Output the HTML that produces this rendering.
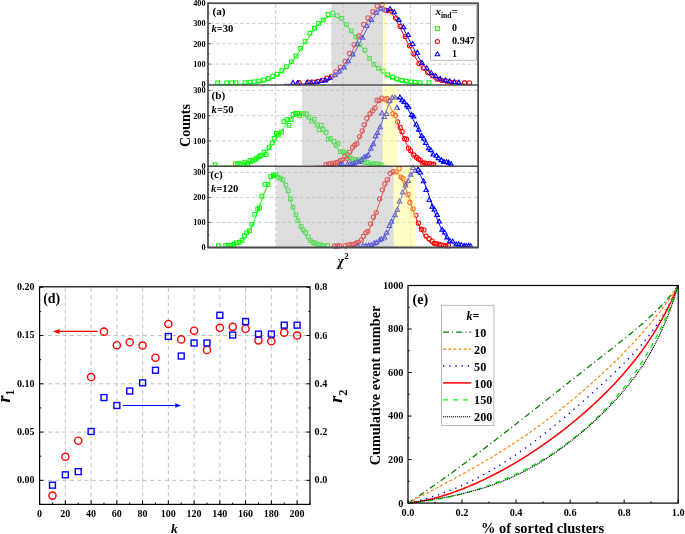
<!DOCTYPE html>
<html><head><meta charset="utf-8"><style>html,body{margin:0;padding:0;background:#fff;overflow:hidden}svg{display:block}</style></head>
<body><svg width="685" height="534" viewBox="0 0 685 534" font-family="'Liberation Serif', serif" font-weight="bold" fill="#000">
<rect width="685" height="534" fill="#fff"/>
<line x1="210" y1="64.07" x2="478.1" y2="64.07" stroke="#cecece" stroke-width="1" stroke-dasharray="3.5 2.5"/>
<line x1="210" y1="43.74" x2="478.1" y2="43.74" stroke="#cecece" stroke-width="1" stroke-dasharray="3.5 2.5"/>
<line x1="210" y1="23.41" x2="478.1" y2="23.41" stroke="#cecece" stroke-width="1" stroke-dasharray="3.5 2.5"/>
<line x1="275.6" y1="4" x2="275.6" y2="85" stroke="#cecece" stroke-width="1" stroke-dasharray="3.5 2.5"/>
<line x1="343.1" y1="4" x2="343.1" y2="85" stroke="#cecece" stroke-width="1" stroke-dasharray="3.5 2.5"/>
<line x1="410.6" y1="4" x2="410.6" y2="85" stroke="#cecece" stroke-width="1" stroke-dasharray="3.5 2.5"/>
<text x="205.6" y="87.3" font-size="8.3" text-anchor="end">0</text>
<text x="205.6" y="66.97" font-size="8.3" text-anchor="end">100</text>
<text x="205.6" y="46.64" font-size="8.3" text-anchor="end">200</text>
<text x="205.6" y="26.31" font-size="8.3" text-anchor="end">300</text>
<text x="205.6" y="5.98" font-size="8.3" text-anchor="end">400</text>
<line x1="210" y1="140.93" x2="478.1" y2="140.93" stroke="#cecece" stroke-width="1" stroke-dasharray="3.5 2.5"/>
<line x1="210" y1="115.66" x2="478.1" y2="115.66" stroke="#cecece" stroke-width="1" stroke-dasharray="3.5 2.5"/>
<line x1="210" y1="90.39" x2="478.1" y2="90.39" stroke="#cecece" stroke-width="1" stroke-dasharray="3.5 2.5"/>
<line x1="275.6" y1="86" x2="275.6" y2="166.2" stroke="#cecece" stroke-width="1" stroke-dasharray="3.5 2.5"/>
<line x1="343.1" y1="86" x2="343.1" y2="166.2" stroke="#cecece" stroke-width="1" stroke-dasharray="3.5 2.5"/>
<line x1="410.6" y1="86" x2="410.6" y2="166.2" stroke="#cecece" stroke-width="1" stroke-dasharray="3.5 2.5"/>
<text x="205.6" y="169.1" font-size="8.3" text-anchor="end">0</text>
<text x="205.6" y="143.83" font-size="8.3" text-anchor="end">100</text>
<text x="205.6" y="118.56" font-size="8.3" text-anchor="end">200</text>
<text x="205.6" y="93.29" font-size="8.3" text-anchor="end">300</text>
<line x1="210" y1="222.47" x2="478.1" y2="222.47" stroke="#cecece" stroke-width="1" stroke-dasharray="3.5 2.5"/>
<line x1="210" y1="197.44" x2="478.1" y2="197.44" stroke="#cecece" stroke-width="1" stroke-dasharray="3.5 2.5"/>
<line x1="210" y1="172.41" x2="478.1" y2="172.41" stroke="#cecece" stroke-width="1" stroke-dasharray="3.5 2.5"/>
<line x1="275.6" y1="167.2" x2="275.6" y2="247.5" stroke="#cecece" stroke-width="1" stroke-dasharray="3.5 2.5"/>
<line x1="343.1" y1="167.2" x2="343.1" y2="247.5" stroke="#cecece" stroke-width="1" stroke-dasharray="3.5 2.5"/>
<line x1="410.6" y1="167.2" x2="410.6" y2="247.5" stroke="#cecece" stroke-width="1" stroke-dasharray="3.5 2.5"/>
<text x="205.6" y="250.4" font-size="8.3" text-anchor="end">0</text>
<text x="205.6" y="225.37" font-size="8.3" text-anchor="end">100</text>
<text x="205.6" y="200.34" font-size="8.3" text-anchor="end">200</text>
<text x="205.6" y="175.31" font-size="8.3" text-anchor="end">300</text>
<polyline points="213,84.4 214,84.4 215,84.39 216,84.39 217,84.39 218,84.39 219,84.39 220,84.39 221,84.39 222,84.38 223,84.38 224,84.38 225,84.37 226,84.37 227,84.36 228,84.36 229,84.35 230,84.35 231,84.34 232,84.33 233,84.32 234,84.31 235,84.29 236,84.28 237,84.26 238,84.24 239,84.22 240,84.19 241,84.17 242,84.14 243,84.1 244,84.06 245,84.02 246,83.97 247,83.92 248,83.86 249,83.8 250,83.72 251,83.64 252,83.56 253,83.46 254,83.35 255,83.23 256,83.1 257,82.96 258,82.81 259,82.64 260,82.45 261,82.25 262,82.04 263,81.8 264,81.54 265,81.27 266,80.97 267,80.64 268,80.3 269,79.92 270,79.52 271,79.09 272,78.63 273,78.14 274,77.62 275,77.06 276,76.47 277,75.85 278,75.18 279,74.48 280,73.74 281,72.96 282,72.14 283,71.28 284,70.38 285,69.43 286,68.45 287,67.42 288,66.35 289,65.24 290,64.09 291,62.9 292,61.67 293,60.4 294,59.1 295,57.77 296,56.4 297,55 298,53.58 299,52.13 300,50.66 301,49.17 302,47.66 303,46.15 304,44.62 305,43.09 306,41.56 307,40.04 308,38.52 309,37.02 310,35.53 311,34.07 312,32.64 313,31.23 314,29.87 315,28.54 316,27.26 317,26.03 318,24.86 319,23.75 320,22.7 321,21.72 322,20.81 323,19.97 324,19.22 325,18.55 326,17.96 327,17.45 328,17.04 329,16.71 330,16.48 331,16.34 332,16.29 333,16.34 334,16.48 335,16.71 336,17.04 337,17.45 338,17.96 339,18.55 340,19.22 341,19.97 342,20.81 343,21.72 344,22.7 345,23.75 346,24.86 347,26.03 348,27.26 349,28.54 350,29.87 351,31.23 352,32.64 353,34.07 354,35.53 355,37.02 356,38.52 357,40.04 358,41.56 359,43.09 360,44.62 361,46.15 362,47.66 363,49.17 364,50.66 365,52.13 366,53.58 367,55 368,56.4 369,57.77 370,59.1 371,60.4 372,61.67 373,62.9 374,64.09 375,65.24 376,66.35 377,67.42 378,68.45 379,69.43 380,70.38 381,71.28 382,72.14 383,72.96 384,73.74 385,74.48 386,75.18 387,75.85 388,76.47 389,77.06 390,77.62 391,78.14 392,78.63 393,79.09 394,79.52 395,79.92 396,80.3 397,80.64 398,80.97 399,81.27 400,81.54 401,81.8 402,82.04 403,82.25 404,82.45 405,82.64 406,82.81 407,82.96 408,83.1 409,83.23 410,83.35 411,83.46 412,83.56 413,83.64 414,83.72 415,83.8 416,83.86 417,83.92 418,83.97 419,84.02 420,84.06 421,84.1 422,84.14 423,84.17 424,84.19 425,84.22 426,84.24 427,84.26 428,84.28 429,84.29 430,84.31" fill="none" stroke="#00ff00" stroke-width="1"/>
<polyline points="290,84.37 291,84.37 292,84.36 293,84.36 294,84.35 295,84.34 296,84.33 297,84.32 298,84.3 299,84.29 300,84.27 301,84.24 302,84.22 303,84.19 304,84.15 305,84.12 306,84.07 307,84.02 308,83.96 309,83.9 310,83.82 311,83.74 312,83.65 313,83.54 314,83.42 315,83.29 316,83.14 317,82.98 318,82.79 319,82.59 320,82.36 321,82.11 322,81.83 323,81.52 324,81.19 325,80.82 326,80.41 327,79.97 328,79.49 329,78.97 330,78.4 331,77.79 332,77.13 333,76.41 334,75.65 335,74.82 336,73.94 337,73.01 338,72.01 339,70.94 340,69.82 341,68.63 342,67.37 343,66.05 344,64.67 345,63.22 346,61.7 347,60.13 348,58.49 349,56.8 350,55.05 351,53.25 352,51.4 353,49.51 354,47.58 355,45.61 356,43.62 357,41.61 358,39.58 359,37.54 360,35.51 361,33.48 362,31.47 363,29.48 364,27.52 365,25.61 366,23.75 367,21.95 368,20.21 369,18.55 370,16.98 371,15.49 372,14.11 373,12.84 374,11.68 375,10.64 376,9.73 377,8.95 378,8.31 379,7.8 380,7.44 381,7.22 382,7.15 383,7.22 384,7.44 385,7.8 386,8.31 387,8.95 388,9.73 389,10.64 390,11.68 391,12.84 392,14.11 393,15.49 394,16.98 395,18.55 396,20.21 397,21.95 398,23.75 399,25.61 400,27.52 401,29.48 402,31.47 403,33.48 404,35.51 405,37.54 406,39.58 407,41.61 408,43.62 409,45.61 410,47.58 411,49.51 412,51.4 413,53.25 414,55.05 415,56.8 416,58.49 417,60.13 418,61.7 419,63.22 420,64.67 421,66.05 422,67.37 423,68.63 424,69.82 425,70.94 426,72.01 427,73.01 428,73.94 429,74.82 430,75.65 431,76.41 432,77.13 433,77.79 434,78.4 435,78.97 436,79.49 437,79.97 438,80.41 439,80.82 440,81.19 441,81.52 442,81.83 443,82.11 444,82.36 445,82.59 446,82.79 447,82.98 448,83.14 449,83.29 450,83.42 451,83.54 452,83.65 453,83.74 454,83.82 455,83.9 456,83.96 457,84.02 458,84.07 459,84.12 460,84.15 461,84.19 462,84.22 463,84.24 464,84.27 465,84.29 466,84.3 467,84.32 468,84.33 469,84.34 470,84.35 471,84.36 472,84.36" fill="none" stroke="#ff0000" stroke-width="1"/>
<polyline points="284,84.39 285,84.39 286,84.39 287,84.39 288,84.39 289,84.38 290,84.38 291,84.38 292,84.37 293,84.37 294,84.36 295,84.35 296,84.35 297,84.34 298,84.33 299,84.31 300,84.3 301,84.28 302,84.26 303,84.24 304,84.21 305,84.19 306,84.15 307,84.11 308,84.07 309,84.02 310,83.97 311,83.9 312,83.83 313,83.75 314,83.66 315,83.56 316,83.44 317,83.32 318,83.17 319,83.02 320,82.84 321,82.65 322,82.43 323,82.19 324,81.93 325,81.64 326,81.33 327,80.98 328,80.6 329,80.19 330,79.74 331,79.25 332,78.72 333,78.15 334,77.53 335,76.87 336,76.15 337,75.39 338,74.57 339,73.69 340,72.76 341,71.78 342,70.73 343,69.62 344,68.45 345,67.23 346,65.94 347,64.58 348,63.17 349,61.7 350,60.17 351,58.59 352,56.95 353,55.26 354,53.52 355,51.74 356,49.91 357,48.05 358,46.16 359,44.25 360,42.31 361,40.36 362,38.41 363,36.45 364,34.5 365,32.57 366,30.66 367,28.77 368,26.93 369,25.14 370,23.39 371,21.71 372,20.1 373,18.57 374,17.13 375,15.77 376,14.52 377,13.37 378,12.33 379,11.42 380,10.62 381,9.95 382,9.41 383,9 384,8.72 385,8.59 386,8.59 387,8.73 388,9.02 389,9.44 390,10.01 391,10.71 392,11.54 393,12.5 394,13.57 395,14.77 396,16.07 397,17.48 398,18.98 399,20.57 400,22.24 401,23.97 402,25.77 403,27.63 404,29.53 405,31.46 406,33.43 407,35.41 408,37.41 409,39.41 410,41.4 411,43.39 412,45.35 413,47.3 414,49.21 415,51.09 416,52.92 417,54.71 418,56.46 419,58.15 420,59.78 421,61.36 422,62.87 423,64.33 424,65.72 425,67.05 426,68.31 427,69.51 428,70.65 429,71.72 430,72.73 431,73.68 432,74.58 433,75.41 434,76.19 435,76.92 436,77.59 437,78.22 438,78.8 439,79.33 440,79.82 441,80.27 442,80.69 443,81.07 444,81.41 445,81.73 446,82.02 447,82.28 448,82.51 449,82.72 450,82.91 451,83.09 452,83.24 453,83.38 454,83.5 455,83.61 456,83.71 457,83.8 458,83.87 459,83.94 460,84 461,84.05 462,84.1" fill="none" stroke="#0000ff" stroke-width="1"/>
<polyline points="213,166.19 214,166.19 215,166.19 216,166.19 217,166.18 218,166.18 219,166.18 220,166.17 221,166.17 222,166.16 223,166.15 224,166.14 225,166.13 226,166.12 227,166.1 228,166.08 229,166.06 230,166.04 231,166.01 232,165.97 233,165.93 234,165.89 235,165.84 236,165.78 237,165.71 238,165.63 239,165.54 240,165.44 241,165.33 242,165.2 243,165.05 244,164.89 245,164.7 246,164.5 247,164.27 248,164.01 249,163.73 250,163.42 251,163.08 252,162.7 253,162.28 254,161.83 255,161.34 256,160.8 257,160.22 258,159.59 259,158.91 260,158.18 261,157.41 262,156.57 263,155.69 264,154.75 265,153.75 266,152.7 267,151.6 268,150.45 269,149.24 270,147.98 271,146.68 272,145.34 273,143.95 274,142.53 275,141.08 276,139.61 277,138.11 278,136.6 279,135.09 280,133.57 281,132.06 282,130.57 283,129.1 284,127.66 285,126.25 286,124.9 287,123.6 288,122.37 289,121.21 290,120.12 291,119.13 292,118.22 293,117.42 294,116.72 295,116.12 296,115.64 297,115.28 298,115.04 299,114.92 300,114.91 301,114.99 302,115.14 303,115.36 304,115.66 305,116.04 306,116.48 307,116.99 308,117.57 309,118.21 310,118.92 311,119.68 312,120.5 313,121.37 314,122.29 315,123.25 316,124.26 317,125.3 318,126.37 319,127.48 320,128.61 321,129.76 322,130.92 323,132.1 324,133.29 325,134.49 326,135.68 327,136.88 328,138.07 329,139.25 330,140.42 331,141.58 332,142.71 333,143.83 334,144.93 335,146 336,147.05 337,148.07 338,149.06 339,150.02 340,150.95 341,151.85 342,152.71 343,153.54 344,154.34 345,155.11 346,155.84 347,156.53 348,157.19 349,157.82 350,158.42 351,158.99 352,159.52 353,160.02 354,160.5 355,160.94 356,161.36 357,161.75 358,162.12 359,162.46 360,162.78 361,163.07 362,163.35 363,163.6 364,163.84 365,164.05 366,164.25 367,164.44 368,164.6 369,164.76 370,164.9 371,165.03 372,165.15 373,165.26 374,165.35 375,165.44 376,165.52 377,165.6 378,165.66 379,165.72 380,165.77 381,165.82 382,165.87 383,165.9 384,165.94 385,165.97 386,166" fill="none" stroke="#00ff00" stroke-width="1"/>
<polyline points="314,166.16 315,166.15 316,166.14 317,166.12 318,166.1 319,166.08 320,166.06 321,166.03 322,165.99 323,165.95 324,165.89 325,165.83 326,165.76 327,165.68 328,165.58 329,165.47 330,165.34 331,165.19 332,165.01 333,164.81 334,164.58 335,164.32 336,164.03 337,163.69 338,163.31 339,162.89 340,162.41 341,161.88 342,161.29 343,160.64 344,159.92 345,159.12 346,158.26 347,157.31 348,156.28 349,155.16 350,153.96 351,152.67 352,151.29 353,149.82 354,148.26 355,146.61 356,144.87 357,143.05 358,141.16 359,139.19 360,137.16 361,135.07 362,132.93 363,130.76 364,128.56 365,126.35 366,124.14 367,121.94 368,119.77 369,117.65 370,115.58 371,113.59 372,111.69 373,109.89 374,108.22 375,106.68 376,105.28 377,104.05 378,102.98 379,102.1 380,101.4 381,100.9 382,100.6 383,100.5 384,100.63 385,101.01 386,101.64 387,102.52 388,103.63 389,104.96 390,106.49 391,108.22 392,110.11 393,112.16 394,114.33 395,116.61 396,118.97 397,121.4 398,123.86 399,126.35 400,128.84 401,131.31 402,133.74 403,136.12 404,138.43 405,140.67 406,142.82 407,144.87 408,146.82 409,148.65 410,150.38 411,151.99 412,153.49 413,154.87 414,156.14 415,157.31 416,158.37 417,159.33 418,160.2 419,160.97 420,161.67 421,162.28 422,162.83 423,163.31 424,163.74 425,164.1 426,164.42 427,164.7 428,164.94 429,165.15 430,165.32 431,165.47 432,165.6 433,165.7 434,165.79 435,165.87 436,165.93 437,165.98 438,166.02 439,166.06 440,166.08 441,166.11 442,166.13" fill="none" stroke="#ff0000" stroke-width="1"/>
<polyline points="326,166.2 327,166.2 328,166.2 329,166.2 330,166.2 331,166.19 332,166.19 333,166.19 334,166.19 335,166.18 336,166.18 337,166.17 338,166.16 339,166.15 340,166.14 341,166.12 342,166.09 343,166.07 344,166.03 345,165.99 346,165.93 347,165.87 348,165.79 349,165.69 350,165.58 351,165.44 352,165.27 353,165.07 354,164.84 355,164.56 356,164.24 357,163.86 358,163.42 359,162.92 360,162.34 361,161.68 362,160.93 363,160.09 364,159.14 365,158.08 366,156.9 367,155.59 368,154.16 369,152.6 370,150.9 371,149.06 372,147.09 373,144.99 374,142.75 375,140.4 376,137.94 377,135.38 378,132.74 379,130.04 380,127.29 381,124.51 382,121.74 383,118.99 384,116.29 385,113.67 386,111.16 387,108.79 388,106.58 389,104.56 390,102.75 391,101.18 392,99.87 393,98.83 394,98.07 395,97.62 396,97.47 397,97.56 398,97.83 399,98.27 400,98.9 401,99.69 402,100.64 403,101.75 404,103.01 405,104.41 406,105.93 407,107.58 408,109.32 409,111.16 410,113.08 411,115.07 412,117.11 413,119.2 414,121.31 415,123.44 416,125.58 417,127.71 418,129.83 419,131.92 420,133.97 421,135.98 422,137.94 423,139.84 424,141.68 425,143.45 426,145.15 427,146.77 428,148.32 429,149.78 430,151.17 431,152.47 432,153.7 433,154.84 434,155.91 435,156.9 436,157.82 437,158.66 438,159.44 439,160.16 440,160.81 441,161.41 442,161.95 443,162.44 444,162.88 445,163.28 446,163.63 447,163.95 448,164.24 449,164.49 450,164.71 451,164.91 452,165.09" fill="none" stroke="#0000ff" stroke-width="1"/>
<polyline points="216,247.46 217,247.45 218,247.43 219,247.42 220,247.39 221,247.37 222,247.33 223,247.29 224,247.24 225,247.18 226,247.1 227,247.01 228,246.9 229,246.77 230,246.61 231,246.43 232,246.21 233,245.95 234,245.65 235,245.3 236,244.9 237,244.44 238,243.9 239,243.3 240,242.61 241,241.83 242,240.95 243,239.97 244,238.88 245,237.68 246,236.35 247,234.89 248,233.3 249,231.58 250,229.72 251,227.73 252,225.61 253,223.36 254,220.99 255,218.51 256,215.93 257,213.26 258,210.52 259,207.72 260,204.89 261,202.05 262,199.23 263,196.44 264,193.71 265,191.07 266,188.55 267,186.17 268,183.96 269,181.95 270,180.15 271,178.59 272,177.29 273,176.26 274,175.51 275,175.06 276,174.91 277,175.06 278,175.51 279,176.26 280,177.29 281,178.59 282,180.15 283,181.95 284,183.96 285,186.17 286,188.55 287,191.07 288,193.71 289,196.44 290,199.23 291,202.05 292,204.89 293,207.72 294,210.52 295,213.26 296,215.93 297,218.51 298,220.99 299,223.36 300,225.61 301,227.73 302,229.72 303,231.58 304,233.3 305,234.89 306,236.35 307,237.68 308,238.88 309,239.97 310,240.95 311,241.83 312,242.61 313,243.3 314,243.9 315,244.44 316,244.9 317,245.3 318,245.65 319,245.95 320,246.21 321,246.43 322,246.61 323,246.77 324,246.9 325,247.01 326,247.1 327,247.18 328,247.24 329,247.29 330,247.33 331,247.37" fill="none" stroke="#00ff00" stroke-width="1"/>
<polyline points="332,247.48 333,247.48 334,247.47 335,247.47 336,247.46 337,247.44 338,247.43 339,247.41 340,247.38 341,247.35 342,247.31 343,247.27 344,247.21 345,247.14 346,247.06 347,246.95 348,246.83 349,246.68 350,246.51 351,246.3 352,246.05 353,245.77 354,245.43 355,245.04 356,244.58 357,244.06 358,243.47 359,242.79 360,242.01 361,241.14 362,240.16 363,239.07 364,237.86 365,236.52 366,235.04 367,233.43 368,231.67 369,229.78 370,227.74 371,225.56 372,223.24 373,220.79 374,218.22 375,215.55 376,212.77 377,209.91 378,207 379,204.04 380,201.06 381,198.1 382,195.16 383,192.29 384,189.51 385,186.85 386,184.34 387,182 388,179.87 389,177.97 390,176.31 391,174.93 392,173.84 393,173.05 394,172.57 395,172.41 396,172.57 397,173.05 398,173.84 399,174.93 400,176.31 401,177.97 402,179.87 403,182 404,184.34 405,186.85 406,189.51 407,192.29 408,195.16 409,198.1 410,201.06 411,204.04 412,207 413,209.91 414,212.77 415,215.55 416,218.22 417,220.79 418,223.24 419,225.56 420,227.74 421,229.78 422,231.67 423,233.43 424,235.04 425,236.52 426,237.86 427,239.07 428,240.16 429,241.14 430,242.01 431,242.79 432,243.47 433,244.06 434,244.58 435,245.04 436,245.43 437,245.77 438,246.05 439,246.3 440,246.51 441,246.68 442,246.83 443,246.95 444,247.06 445,247.14 446,247.21 447,247.27 448,247.31 449,247.35" fill="none" stroke="#ff0000" stroke-width="1"/>
<polyline points="358,247.42 359,247.4 360,247.38 361,247.34 362,247.3 363,247.26 364,247.2 365,247.13 366,247.04 367,246.93 368,246.81 369,246.66 370,246.48 371,246.27 372,246.03 373,245.74 374,245.4 375,245.01 376,244.56 377,244.04 378,243.45 379,242.78 380,242.01 381,241.15 382,240.19 383,239.11 384,237.91 385,236.59 386,235.14 387,233.56 388,231.83 389,229.97 390,227.97 391,225.83 392,223.55 393,221.14 394,218.62 395,215.98 396,213.24 397,210.42 398,207.54 399,204.61 400,201.65 401,198.7 402,195.77 403,192.89 404,190.1 405,187.41 406,184.85 407,182.46 408,180.26 409,178.27 410,176.52 411,175.03 412,173.81 413,172.89 414,172.26 415,171.95 416,171.95 417,172.26 418,172.89 419,173.81 420,175.03 421,176.52 422,178.27 423,180.26 424,182.46 425,184.85 426,187.41 427,190.1 428,192.89 429,195.77 430,198.7 431,201.65 432,204.61 433,207.54 434,210.42 435,213.24 436,215.98 437,218.62 438,221.14 439,223.55 440,225.83 441,227.97 442,229.97 443,231.83 444,233.56 445,235.14 446,236.59 447,237.91 448,239.11 449,240.19 450,241.15 451,242.01 452,242.78 453,243.45 454,244.04 455,244.56 456,245.01 457,245.4 458,245.74 459,246.03 460,246.27 461,246.48 462,246.66 463,246.81 464,246.93 465,247.04 466,247.13 467,247.2 468,247.26 469,247.3 470,247.34 471,247.38 472,247.4 473,247.42" fill="none" stroke="#0000ff" stroke-width="1"/>
<rect x="215.77" y="81" width="3.7" height="3.7" fill="none" stroke="#00ff00" stroke-width="1.05"/>
<rect x="224.91" y="81" width="3.7" height="3.7" fill="none" stroke="#00ff00" stroke-width="1.05"/>
<rect x="229.75" y="80.95" width="3.7" height="3.7" fill="none" stroke="#00ff00" stroke-width="1.05"/>
<rect x="233.98" y="80.91" width="3.7" height="3.7" fill="none" stroke="#00ff00" stroke-width="1.05"/>
<rect x="243.29" y="80.87" width="3.7" height="3.7" fill="none" stroke="#00ff00" stroke-width="1.05"/>
<rect x="248.17" y="80.34" width="3.7" height="3.7" fill="none" stroke="#00ff00" stroke-width="1.05"/>
<rect x="252.42" y="79.96" width="3.7" height="3.7" fill="none" stroke="#00ff00" stroke-width="1.05"/>
<rect x="257.04" y="79.22" width="3.7" height="3.7" fill="none" stroke="#00ff00" stroke-width="1.05"/>
<rect x="261.94" y="78.19" width="3.7" height="3.7" fill="none" stroke="#00ff00" stroke-width="1.05"/>
<rect x="266.43" y="76.69" width="3.7" height="3.7" fill="none" stroke="#00ff00" stroke-width="1.05"/>
<rect x="270.87" y="74.42" width="3.7" height="3.7" fill="none" stroke="#00ff00" stroke-width="1.05"/>
<rect x="275.29" y="72.4" width="3.7" height="3.7" fill="none" stroke="#00ff00" stroke-width="1.05"/>
<rect x="279.97" y="68.85" width="3.7" height="3.7" fill="none" stroke="#00ff00" stroke-width="1.05"/>
<rect x="284.64" y="64.77" width="3.7" height="3.7" fill="none" stroke="#00ff00" stroke-width="1.05"/>
<rect x="289.4" y="60.01" width="3.7" height="3.7" fill="none" stroke="#00ff00" stroke-width="1.05"/>
<rect x="294.13" y="54" width="3.7" height="3.7" fill="none" stroke="#00ff00" stroke-width="1.05"/>
<rect x="298.67" y="46.49" width="3.7" height="3.7" fill="none" stroke="#00ff00" stroke-width="1.05"/>
<rect x="303.17" y="39.69" width="3.7" height="3.7" fill="none" stroke="#00ff00" stroke-width="1.05"/>
<rect x="307.98" y="31.34" width="3.7" height="3.7" fill="none" stroke="#00ff00" stroke-width="1.05"/>
<rect x="312.64" y="26.37" width="3.7" height="3.7" fill="none" stroke="#00ff00" stroke-width="1.05"/>
<rect x="316.72" y="21.62" width="3.7" height="3.7" fill="none" stroke="#00ff00" stroke-width="1.05"/>
<rect x="321.34" y="18.18" width="3.7" height="3.7" fill="none" stroke="#00ff00" stroke-width="1.05"/>
<rect x="326.14" y="12.61" width="3.7" height="3.7" fill="none" stroke="#00ff00" stroke-width="1.05"/>
<rect x="330.91" y="11.08" width="3.7" height="3.7" fill="none" stroke="#00ff00" stroke-width="1.05"/>
<rect x="335.39" y="13.73" width="3.7" height="3.7" fill="none" stroke="#00ff00" stroke-width="1.05"/>
<rect x="340.07" y="16.51" width="3.7" height="3.7" fill="none" stroke="#00ff00" stroke-width="1.05"/>
<rect x="344.61" y="22.72" width="3.7" height="3.7" fill="none" stroke="#00ff00" stroke-width="1.05"/>
<rect x="349.35" y="29" width="3.7" height="3.7" fill="none" stroke="#00ff00" stroke-width="1.05"/>
<rect x="354.02" y="35.14" width="3.7" height="3.7" fill="none" stroke="#00ff00" stroke-width="1.05"/>
<rect x="358.09" y="43.03" width="3.7" height="3.7" fill="none" stroke="#00ff00" stroke-width="1.05"/>
<rect x="363.07" y="48.27" width="3.7" height="3.7" fill="none" stroke="#00ff00" stroke-width="1.05"/>
<rect x="367.74" y="56.49" width="3.7" height="3.7" fill="none" stroke="#00ff00" stroke-width="1.05"/>
<rect x="372.02" y="62.54" width="3.7" height="3.7" fill="none" stroke="#00ff00" stroke-width="1.05"/>
<rect x="376.46" y="66.39" width="3.7" height="3.7" fill="none" stroke="#00ff00" stroke-width="1.05"/>
<rect x="381.33" y="69.25" width="3.7" height="3.7" fill="none" stroke="#00ff00" stroke-width="1.05"/>
<rect x="385.69" y="72.89" width="3.7" height="3.7" fill="none" stroke="#00ff00" stroke-width="1.05"/>
<rect x="390.71" y="75.31" width="3.7" height="3.7" fill="none" stroke="#00ff00" stroke-width="1.05"/>
<rect x="395.08" y="77.13" width="3.7" height="3.7" fill="none" stroke="#00ff00" stroke-width="1.05"/>
<rect x="399.97" y="78.45" width="3.7" height="3.7" fill="none" stroke="#00ff00" stroke-width="1.05"/>
<rect x="404.38" y="79.29" width="3.7" height="3.7" fill="none" stroke="#00ff00" stroke-width="1.05"/>
<rect x="409.18" y="80" width="3.7" height="3.7" fill="none" stroke="#00ff00" stroke-width="1.05"/>
<rect x="413.42" y="80.36" width="3.7" height="3.7" fill="none" stroke="#00ff00" stroke-width="1.05"/>
<rect x="418.1" y="80.92" width="3.7" height="3.7" fill="none" stroke="#00ff00" stroke-width="1.05"/>
<rect x="427.16" y="80.8" width="3.7" height="3.7" fill="none" stroke="#00ff00" stroke-width="1.05"/>
<circle cx="299.12" cy="82.78" r="2.15" fill="none" stroke="#ff0000" stroke-width="1.05"/>
<circle cx="308.41" cy="82.25" r="2.15" fill="none" stroke="#ff0000" stroke-width="1.05"/>
<circle cx="313.07" cy="82.11" r="2.15" fill="none" stroke="#ff0000" stroke-width="1.05"/>
<circle cx="317.84" cy="81.4" r="2.15" fill="none" stroke="#ff0000" stroke-width="1.05"/>
<circle cx="322.37" cy="80.35" r="2.15" fill="none" stroke="#ff0000" stroke-width="1.05"/>
<circle cx="326.74" cy="78.14" r="2.15" fill="none" stroke="#ff0000" stroke-width="1.05"/>
<circle cx="331.34" cy="76.56" r="2.15" fill="none" stroke="#ff0000" stroke-width="1.05"/>
<circle cx="335.74" cy="71.86" r="2.15" fill="none" stroke="#ff0000" stroke-width="1.05"/>
<circle cx="340.34" cy="67.08" r="2.15" fill="none" stroke="#ff0000" stroke-width="1.05"/>
<circle cx="345.1" cy="61.31" r="2.15" fill="none" stroke="#ff0000" stroke-width="1.05"/>
<circle cx="349.53" cy="53.42" r="2.15" fill="none" stroke="#ff0000" stroke-width="1.05"/>
<circle cx="354.16" cy="44.74" r="2.15" fill="none" stroke="#ff0000" stroke-width="1.05"/>
<circle cx="358.92" cy="36.04" r="2.15" fill="none" stroke="#ff0000" stroke-width="1.05"/>
<circle cx="363.67" cy="24.42" r="2.15" fill="none" stroke="#ff0000" stroke-width="1.05"/>
<circle cx="367.99" cy="17.96" r="2.15" fill="none" stroke="#ff0000" stroke-width="1.05"/>
<circle cx="372.72" cy="11.6" r="2.15" fill="none" stroke="#ff0000" stroke-width="1.05"/>
<circle cx="377.17" cy="5.91" r="2.15" fill="none" stroke="#ff0000" stroke-width="1.05"/>
<circle cx="381.98" cy="4.7" r="2.15" fill="none" stroke="#ff0000" stroke-width="1.05"/>
<circle cx="386.59" cy="10.7" r="2.15" fill="none" stroke="#ff0000" stroke-width="1.05"/>
<circle cx="391.11" cy="11.05" r="2.15" fill="none" stroke="#ff0000" stroke-width="1.05"/>
<circle cx="395.66" cy="18.07" r="2.15" fill="none" stroke="#ff0000" stroke-width="1.05"/>
<circle cx="400.11" cy="26.47" r="2.15" fill="none" stroke="#ff0000" stroke-width="1.05"/>
<circle cx="405.27" cy="36.61" r="2.15" fill="none" stroke="#ff0000" stroke-width="1.05"/>
<circle cx="409.63" cy="45.83" r="2.15" fill="none" stroke="#ff0000" stroke-width="1.05"/>
<circle cx="413.92" cy="53.99" r="2.15" fill="none" stroke="#ff0000" stroke-width="1.05"/>
<circle cx="419.02" cy="63.43" r="2.15" fill="none" stroke="#ff0000" stroke-width="1.05"/>
<circle cx="423.52" cy="67.91" r="2.15" fill="none" stroke="#ff0000" stroke-width="1.05"/>
<circle cx="427.8" cy="72.48" r="2.15" fill="none" stroke="#ff0000" stroke-width="1.05"/>
<circle cx="432.76" cy="75.63" r="2.15" fill="none" stroke="#ff0000" stroke-width="1.05"/>
<circle cx="437.1" cy="79.14" r="2.15" fill="none" stroke="#ff0000" stroke-width="1.05"/>
<circle cx="441.63" cy="80.36" r="2.15" fill="none" stroke="#ff0000" stroke-width="1.05"/>
<circle cx="446.61" cy="81.14" r="2.15" fill="none" stroke="#ff0000" stroke-width="1.05"/>
<circle cx="451.18" cy="82.48" r="2.15" fill="none" stroke="#ff0000" stroke-width="1.05"/>
<circle cx="455.44" cy="82.35" r="2.15" fill="none" stroke="#ff0000" stroke-width="1.05"/>
<circle cx="464.67" cy="82.79" r="2.15" fill="none" stroke="#ff0000" stroke-width="1.05"/>
<circle cx="469.52" cy="82.83" r="2.15" fill="none" stroke="#ff0000" stroke-width="1.05"/>
<path d="M293.04 80.4L295.34 84.4L290.74 84.4Z" fill="none" stroke="#0000ff" stroke-width="1.05"/>
<path d="M297.62 80.45L299.92 84.45L295.32 84.45Z" fill="none" stroke="#0000ff" stroke-width="1.05"/>
<path d="M306.99 80.38L309.29 84.38L304.69 84.38Z" fill="none" stroke="#0000ff" stroke-width="1.05"/>
<path d="M311.35 80.1L313.65 84.1L309.05 84.1Z" fill="none" stroke="#0000ff" stroke-width="1.05"/>
<path d="M316.3 79.77L318.6 83.77L314 83.77Z" fill="none" stroke="#0000ff" stroke-width="1.05"/>
<path d="M320.95 78.46L323.25 82.46L318.65 82.46Z" fill="none" stroke="#0000ff" stroke-width="1.05"/>
<path d="M325.39 77.88L327.69 81.88L323.09 81.88Z" fill="none" stroke="#0000ff" stroke-width="1.05"/>
<path d="M329.9 75.57L332.2 79.57L327.6 79.57Z" fill="none" stroke="#0000ff" stroke-width="1.05"/>
<path d="M334.78 72.55L337.08 76.55L332.48 76.55Z" fill="none" stroke="#0000ff" stroke-width="1.05"/>
<path d="M339.14 69.09L341.44 73.09L336.84 73.09Z" fill="none" stroke="#0000ff" stroke-width="1.05"/>
<path d="M344.07 64.9L346.37 68.9L341.77 68.9Z" fill="none" stroke="#0000ff" stroke-width="1.05"/>
<path d="M348.18 58.76L350.48 62.76L345.88 62.76Z" fill="none" stroke="#0000ff" stroke-width="1.05"/>
<path d="M352.79 51.87L355.09 55.87L350.49 55.87Z" fill="none" stroke="#0000ff" stroke-width="1.05"/>
<path d="M357.39 41.57L359.69 45.57L355.09 45.57Z" fill="none" stroke="#0000ff" stroke-width="1.05"/>
<path d="M362.4 35.21L364.7 39.21L360.1 39.21Z" fill="none" stroke="#0000ff" stroke-width="1.05"/>
<path d="M366.71 23.54L369.01 27.54L364.41 27.54Z" fill="none" stroke="#0000ff" stroke-width="1.05"/>
<path d="M371.43 17.39L373.73 21.39L369.13 21.39Z" fill="none" stroke="#0000ff" stroke-width="1.05"/>
<path d="M376.28 10.47L378.58 14.47L373.98 14.47Z" fill="none" stroke="#0000ff" stroke-width="1.05"/>
<path d="M380.69 6.13L382.99 10.13L378.39 10.13Z" fill="none" stroke="#0000ff" stroke-width="1.05"/>
<path d="M385.16 7.84L387.46 11.84L382.86 11.84Z" fill="none" stroke="#0000ff" stroke-width="1.05"/>
<path d="M390.02 6.51L392.32 10.51L387.72 10.51Z" fill="none" stroke="#0000ff" stroke-width="1.05"/>
<path d="M394.25 9.72L396.55 13.72L391.95 13.72Z" fill="none" stroke="#0000ff" stroke-width="1.05"/>
<path d="M398.88 17.44L401.18 21.44L396.58 21.44Z" fill="none" stroke="#0000ff" stroke-width="1.05"/>
<path d="M403.46 24.77L405.76 28.77L401.16 28.77Z" fill="none" stroke="#0000ff" stroke-width="1.05"/>
<path d="M408.15 32.47L410.45 36.47L405.85 36.47Z" fill="none" stroke="#0000ff" stroke-width="1.05"/>
<path d="M412.71 41.56L415.01 45.56L410.41 45.56Z" fill="none" stroke="#0000ff" stroke-width="1.05"/>
<path d="M417.37 50.15L419.67 54.15L415.07 54.15Z" fill="none" stroke="#0000ff" stroke-width="1.05"/>
<path d="M421.95 60.35L424.25 64.35L419.65 64.35Z" fill="none" stroke="#0000ff" stroke-width="1.05"/>
<path d="M426.85 65.81L429.15 69.81L424.55 69.81Z" fill="none" stroke="#0000ff" stroke-width="1.05"/>
<path d="M431.21 70.6L433.51 74.6L428.91 74.6Z" fill="none" stroke="#0000ff" stroke-width="1.05"/>
<path d="M435.51 73.57L437.81 77.57L433.21 77.57Z" fill="none" stroke="#0000ff" stroke-width="1.05"/>
<path d="M440.1 76.31L442.4 80.31L437.8 80.31Z" fill="none" stroke="#0000ff" stroke-width="1.05"/>
<path d="M445.18 77.77L447.48 81.77L442.88 81.77Z" fill="none" stroke="#0000ff" stroke-width="1.05"/>
<path d="M449.74 78.83L452.04 82.83L447.44 82.83Z" fill="none" stroke="#0000ff" stroke-width="1.05"/>
<path d="M454.23 79.46L456.53 83.46L451.93 83.46Z" fill="none" stroke="#0000ff" stroke-width="1.05"/>
<path d="M458.83 80.1L461.13 84.1L456.53 84.1Z" fill="none" stroke="#0000ff" stroke-width="1.05"/>
<rect x="331.3" y="3.9" width="51.7" height="80.4" fill="rgb(185,185,185)" fill-opacity="0.486"/>
<rect x="383" y="3.9" width="3" height="80.4" fill="rgb(255,255,116)" fill-opacity="0.43"/>
<rect x="213.34" y="162.85" width="3.7" height="3.7" fill="none" stroke="#00ff00" stroke-width="1.05"/>
<rect x="233.43" y="162.2" width="3.7" height="3.7" fill="none" stroke="#00ff00" stroke-width="1.05"/>
<rect x="235.58" y="162.04" width="3.7" height="3.7" fill="none" stroke="#00ff00" stroke-width="1.05"/>
<rect x="238.19" y="161.88" width="3.7" height="3.7" fill="none" stroke="#00ff00" stroke-width="1.05"/>
<rect x="241.1" y="162.71" width="3.7" height="3.7" fill="none" stroke="#00ff00" stroke-width="1.05"/>
<rect x="242.89" y="160.34" width="3.7" height="3.7" fill="none" stroke="#00ff00" stroke-width="1.05"/>
<rect x="245.83" y="161.82" width="3.7" height="3.7" fill="none" stroke="#00ff00" stroke-width="1.05"/>
<rect x="248.08" y="158.7" width="3.7" height="3.7" fill="none" stroke="#00ff00" stroke-width="1.05"/>
<rect x="250.63" y="159.26" width="3.7" height="3.7" fill="none" stroke="#00ff00" stroke-width="1.05"/>
<rect x="253" y="157.87" width="3.7" height="3.7" fill="none" stroke="#00ff00" stroke-width="1.05"/>
<rect x="254.83" y="156.26" width="3.7" height="3.7" fill="none" stroke="#00ff00" stroke-width="1.05"/>
<rect x="257.22" y="154.58" width="3.7" height="3.7" fill="none" stroke="#00ff00" stroke-width="1.05"/>
<rect x="259.29" y="153.6" width="3.7" height="3.7" fill="none" stroke="#00ff00" stroke-width="1.05"/>
<rect x="262.18" y="150.25" width="3.7" height="3.7" fill="none" stroke="#00ff00" stroke-width="1.05"/>
<rect x="264.32" y="152.8" width="3.7" height="3.7" fill="none" stroke="#00ff00" stroke-width="1.05"/>
<rect x="267.22" y="145.86" width="3.7" height="3.7" fill="none" stroke="#00ff00" stroke-width="1.05"/>
<rect x="270.25" y="141.15" width="3.7" height="3.7" fill="none" stroke="#00ff00" stroke-width="1.05"/>
<rect x="272.27" y="136.46" width="3.7" height="3.7" fill="none" stroke="#00ff00" stroke-width="1.05"/>
<rect x="274.57" y="131.42" width="3.7" height="3.7" fill="none" stroke="#00ff00" stroke-width="1.05"/>
<rect x="276.54" y="133.16" width="3.7" height="3.7" fill="none" stroke="#00ff00" stroke-width="1.05"/>
<rect x="279.7" y="130.33" width="3.7" height="3.7" fill="none" stroke="#00ff00" stroke-width="1.05"/>
<rect x="282.05" y="119.81" width="3.7" height="3.7" fill="none" stroke="#00ff00" stroke-width="1.05"/>
<rect x="285.03" y="117.78" width="3.7" height="3.7" fill="none" stroke="#00ff00" stroke-width="1.05"/>
<rect x="287.16" y="123.55" width="3.7" height="3.7" fill="none" stroke="#00ff00" stroke-width="1.05"/>
<rect x="289.36" y="117.67" width="3.7" height="3.7" fill="none" stroke="#00ff00" stroke-width="1.05"/>
<rect x="291.22" y="112.52" width="3.7" height="3.7" fill="none" stroke="#00ff00" stroke-width="1.05"/>
<rect x="293.49" y="111.46" width="3.7" height="3.7" fill="none" stroke="#00ff00" stroke-width="1.05"/>
<rect x="295.82" y="111.61" width="3.7" height="3.7" fill="none" stroke="#00ff00" stroke-width="1.05"/>
<rect x="297.82" y="113.94" width="3.7" height="3.7" fill="none" stroke="#00ff00" stroke-width="1.05"/>
<rect x="299.99" y="111.74" width="3.7" height="3.7" fill="none" stroke="#00ff00" stroke-width="1.05"/>
<rect x="302.11" y="111.86" width="3.7" height="3.7" fill="none" stroke="#00ff00" stroke-width="1.05"/>
<rect x="304.86" y="112.16" width="3.7" height="3.7" fill="none" stroke="#00ff00" stroke-width="1.05"/>
<rect x="307" y="115.3" width="3.7" height="3.7" fill="none" stroke="#00ff00" stroke-width="1.05"/>
<rect x="309.84" y="119.34" width="3.7" height="3.7" fill="none" stroke="#00ff00" stroke-width="1.05"/>
<rect x="312.5" y="117.39" width="3.7" height="3.7" fill="none" stroke="#00ff00" stroke-width="1.05"/>
<rect x="315.25" y="123.1" width="3.7" height="3.7" fill="none" stroke="#00ff00" stroke-width="1.05"/>
<rect x="317.3" y="128.01" width="3.7" height="3.7" fill="none" stroke="#00ff00" stroke-width="1.05"/>
<rect x="319.46" y="123.35" width="3.7" height="3.7" fill="none" stroke="#00ff00" stroke-width="1.05"/>
<rect x="321.44" y="127.74" width="3.7" height="3.7" fill="none" stroke="#00ff00" stroke-width="1.05"/>
<rect x="324.28" y="130.38" width="3.7" height="3.7" fill="none" stroke="#00ff00" stroke-width="1.05"/>
<rect x="326.44" y="137.51" width="3.7" height="3.7" fill="none" stroke="#00ff00" stroke-width="1.05"/>
<rect x="328.78" y="136.77" width="3.7" height="3.7" fill="none" stroke="#00ff00" stroke-width="1.05"/>
<rect x="332.05" y="139.45" width="3.7" height="3.7" fill="none" stroke="#00ff00" stroke-width="1.05"/>
<rect x="334.1" y="143.61" width="3.7" height="3.7" fill="none" stroke="#00ff00" stroke-width="1.05"/>
<rect x="336.18" y="141.72" width="3.7" height="3.7" fill="none" stroke="#00ff00" stroke-width="1.05"/>
<rect x="338.58" y="149.97" width="3.7" height="3.7" fill="none" stroke="#00ff00" stroke-width="1.05"/>
<rect x="340.87" y="149.94" width="3.7" height="3.7" fill="none" stroke="#00ff00" stroke-width="1.05"/>
<rect x="343.07" y="150.75" width="3.7" height="3.7" fill="none" stroke="#00ff00" stroke-width="1.05"/>
<rect x="345.17" y="152.59" width="3.7" height="3.7" fill="none" stroke="#00ff00" stroke-width="1.05"/>
<rect x="347.58" y="155.88" width="3.7" height="3.7" fill="none" stroke="#00ff00" stroke-width="1.05"/>
<rect x="350.11" y="156.75" width="3.7" height="3.7" fill="none" stroke="#00ff00" stroke-width="1.05"/>
<rect x="353.03" y="158.07" width="3.7" height="3.7" fill="none" stroke="#00ff00" stroke-width="1.05"/>
<rect x="354.94" y="157.77" width="3.7" height="3.7" fill="none" stroke="#00ff00" stroke-width="1.05"/>
<rect x="357.58" y="157.72" width="3.7" height="3.7" fill="none" stroke="#00ff00" stroke-width="1.05"/>
<rect x="360.01" y="159.55" width="3.7" height="3.7" fill="none" stroke="#00ff00" stroke-width="1.05"/>
<rect x="362.57" y="160.08" width="3.7" height="3.7" fill="none" stroke="#00ff00" stroke-width="1.05"/>
<rect x="365.47" y="160.58" width="3.7" height="3.7" fill="none" stroke="#00ff00" stroke-width="1.05"/>
<rect x="368.11" y="162.45" width="3.7" height="3.7" fill="none" stroke="#00ff00" stroke-width="1.05"/>
<rect x="370.42" y="162.33" width="3.7" height="3.7" fill="none" stroke="#00ff00" stroke-width="1.05"/>
<rect x="372.3" y="161.78" width="3.7" height="3.7" fill="none" stroke="#00ff00" stroke-width="1.05"/>
<rect x="375.29" y="161.99" width="3.7" height="3.7" fill="none" stroke="#00ff00" stroke-width="1.05"/>
<rect x="377.77" y="162.76" width="3.7" height="3.7" fill="none" stroke="#00ff00" stroke-width="1.05"/>
<rect x="379.88" y="162.83" width="3.7" height="3.7" fill="none" stroke="#00ff00" stroke-width="1.05"/>
<circle cx="326.01" cy="164.33" r="2.15" fill="none" stroke="#ff0000" stroke-width="1.05"/>
<circle cx="328.53" cy="164.16" r="2.15" fill="none" stroke="#ff0000" stroke-width="1.05"/>
<circle cx="330.34" cy="163.81" r="2.15" fill="none" stroke="#ff0000" stroke-width="1.05"/>
<circle cx="332.88" cy="163.39" r="2.15" fill="none" stroke="#ff0000" stroke-width="1.05"/>
<circle cx="335.37" cy="162.94" r="2.15" fill="none" stroke="#ff0000" stroke-width="1.05"/>
<circle cx="337.71" cy="162.44" r="2.15" fill="none" stroke="#ff0000" stroke-width="1.05"/>
<circle cx="340.05" cy="160.61" r="2.15" fill="none" stroke="#ff0000" stroke-width="1.05"/>
<circle cx="342.29" cy="159.81" r="2.15" fill="none" stroke="#ff0000" stroke-width="1.05"/>
<circle cx="344.91" cy="156.46" r="2.15" fill="none" stroke="#ff0000" stroke-width="1.05"/>
<circle cx="346.95" cy="158.6" r="2.15" fill="none" stroke="#ff0000" stroke-width="1.05"/>
<circle cx="349.73" cy="152.07" r="2.15" fill="none" stroke="#ff0000" stroke-width="1.05"/>
<circle cx="352.64" cy="147.21" r="2.15" fill="none" stroke="#ff0000" stroke-width="1.05"/>
<circle cx="354.65" cy="145.19" r="2.15" fill="none" stroke="#ff0000" stroke-width="1.05"/>
<circle cx="356.85" cy="143.63" r="2.15" fill="none" stroke="#ff0000" stroke-width="1.05"/>
<circle cx="359.5" cy="136.56" r="2.15" fill="none" stroke="#ff0000" stroke-width="1.05"/>
<circle cx="362.16" cy="130.98" r="2.15" fill="none" stroke="#ff0000" stroke-width="1.05"/>
<circle cx="364.29" cy="124.73" r="2.15" fill="none" stroke="#ff0000" stroke-width="1.05"/>
<circle cx="366.82" cy="118.26" r="2.15" fill="none" stroke="#ff0000" stroke-width="1.05"/>
<circle cx="370.02" cy="113.79" r="2.15" fill="none" stroke="#ff0000" stroke-width="1.05"/>
<circle cx="372.61" cy="110.8" r="2.15" fill="none" stroke="#ff0000" stroke-width="1.05"/>
<circle cx="374.87" cy="107.97" r="2.15" fill="none" stroke="#ff0000" stroke-width="1.05"/>
<circle cx="376.97" cy="100.2" r="2.15" fill="none" stroke="#ff0000" stroke-width="1.05"/>
<circle cx="379.14" cy="100.47" r="2.15" fill="none" stroke="#ff0000" stroke-width="1.05"/>
<circle cx="381.98" cy="98.07" r="2.15" fill="none" stroke="#ff0000" stroke-width="1.05"/>
<circle cx="384.93" cy="99.46" r="2.15" fill="none" stroke="#ff0000" stroke-width="1.05"/>
<circle cx="386.95" cy="98.52" r="2.15" fill="none" stroke="#ff0000" stroke-width="1.05"/>
<circle cx="389.94" cy="100.51" r="2.15" fill="none" stroke="#ff0000" stroke-width="1.05"/>
<circle cx="392.92" cy="113.57" r="2.15" fill="none" stroke="#ff0000" stroke-width="1.05"/>
<circle cx="395.25" cy="115.53" r="2.15" fill="none" stroke="#ff0000" stroke-width="1.05"/>
<circle cx="397.61" cy="121.86" r="2.15" fill="none" stroke="#ff0000" stroke-width="1.05"/>
<circle cx="400.26" cy="127.51" r="2.15" fill="none" stroke="#ff0000" stroke-width="1.05"/>
<circle cx="402.02" cy="131.63" r="2.15" fill="none" stroke="#ff0000" stroke-width="1.05"/>
<circle cx="404.58" cy="138.61" r="2.15" fill="none" stroke="#ff0000" stroke-width="1.05"/>
<circle cx="406.55" cy="139.28" r="2.15" fill="none" stroke="#ff0000" stroke-width="1.05"/>
<circle cx="408.47" cy="148.18" r="2.15" fill="none" stroke="#ff0000" stroke-width="1.05"/>
<circle cx="410.57" cy="150.64" r="2.15" fill="none" stroke="#ff0000" stroke-width="1.05"/>
<circle cx="413.78" cy="155" r="2.15" fill="none" stroke="#ff0000" stroke-width="1.05"/>
<circle cx="416.38" cy="157.26" r="2.15" fill="none" stroke="#ff0000" stroke-width="1.05"/>
<circle cx="418.37" cy="158.92" r="2.15" fill="none" stroke="#ff0000" stroke-width="1.05"/>
<circle cx="420.32" cy="160.12" r="2.15" fill="none" stroke="#ff0000" stroke-width="1.05"/>
<circle cx="422.79" cy="163.03" r="2.15" fill="none" stroke="#ff0000" stroke-width="1.05"/>
<circle cx="424.91" cy="163.14" r="2.15" fill="none" stroke="#ff0000" stroke-width="1.05"/>
<circle cx="427.12" cy="163.63" r="2.15" fill="none" stroke="#ff0000" stroke-width="1.05"/>
<circle cx="429.85" cy="163.47" r="2.15" fill="none" stroke="#ff0000" stroke-width="1.05"/>
<circle cx="431.83" cy="164.59" r="2.15" fill="none" stroke="#ff0000" stroke-width="1.05"/>
<circle cx="433.6" cy="164.28" r="2.15" fill="none" stroke="#ff0000" stroke-width="1.05"/>
<path d="M340.63 162.3L342.93 166.3L338.33 166.3Z" fill="none" stroke="#0000ff" stroke-width="1.05"/>
<path d="M342.38 161.87L344.68 165.87L340.08 165.87Z" fill="none" stroke="#0000ff" stroke-width="1.05"/>
<path d="M347.37 161.85L349.67 165.85L345.07 165.85Z" fill="none" stroke="#0000ff" stroke-width="1.05"/>
<path d="M349.77 161.61L352.07 165.61L347.47 165.61Z" fill="none" stroke="#0000ff" stroke-width="1.05"/>
<path d="M351.85 161.43L354.15 165.43L349.55 165.43Z" fill="none" stroke="#0000ff" stroke-width="1.05"/>
<path d="M354.6 160.9L356.9 164.9L352.3 164.9Z" fill="none" stroke="#0000ff" stroke-width="1.05"/>
<path d="M356.71 159.47L359.01 163.47L354.41 163.47Z" fill="none" stroke="#0000ff" stroke-width="1.05"/>
<path d="M359.3 159.58L361.6 163.58L357 163.58Z" fill="none" stroke="#0000ff" stroke-width="1.05"/>
<path d="M361.62 157.4L363.92 161.4L359.32 161.4Z" fill="none" stroke="#0000ff" stroke-width="1.05"/>
<path d="M364.14 154.83L366.44 158.83L361.84 158.83Z" fill="none" stroke="#0000ff" stroke-width="1.05"/>
<path d="M366.19 153.99L368.49 157.99L363.89 157.99Z" fill="none" stroke="#0000ff" stroke-width="1.05"/>
<path d="M368.21 152.63L370.51 156.63L365.91 156.63Z" fill="none" stroke="#0000ff" stroke-width="1.05"/>
<path d="M370.81 146.3L373.11 150.3L368.51 150.3Z" fill="none" stroke="#0000ff" stroke-width="1.05"/>
<path d="M373.26 141.66L375.56 145.66L370.96 145.66Z" fill="none" stroke="#0000ff" stroke-width="1.05"/>
<path d="M375.57 133.81L377.87 137.81L373.27 137.81Z" fill="none" stroke="#0000ff" stroke-width="1.05"/>
<path d="M377.35 130.49L379.65 134.49L375.05 134.49Z" fill="none" stroke="#0000ff" stroke-width="1.05"/>
<path d="M380.17 124.65L382.47 128.65L377.87 128.65Z" fill="none" stroke="#0000ff" stroke-width="1.05"/>
<path d="M382.1 110.67L384.4 114.67L379.8 114.67Z" fill="none" stroke="#0000ff" stroke-width="1.05"/>
<path d="M384.38 114.41L386.68 118.41L382.08 118.41Z" fill="none" stroke="#0000ff" stroke-width="1.05"/>
<path d="M386.72 111.55L389.02 115.55L384.42 115.55Z" fill="none" stroke="#0000ff" stroke-width="1.05"/>
<path d="M389.48 98.64L391.78 102.64L387.18 102.64Z" fill="none" stroke="#0000ff" stroke-width="1.05"/>
<path d="M392.28 95.08L394.58 99.08L389.98 99.08Z" fill="none" stroke="#0000ff" stroke-width="1.05"/>
<path d="M395.07 95.03L397.37 99.03L392.77 99.03Z" fill="none" stroke="#0000ff" stroke-width="1.05"/>
<path d="M396.86 105.16L399.16 109.16L394.56 109.16Z" fill="none" stroke="#0000ff" stroke-width="1.05"/>
<path d="M399.96 94.92L402.26 98.92L397.66 98.92Z" fill="none" stroke="#0000ff" stroke-width="1.05"/>
<path d="M402.07 97.73L404.37 101.73L399.77 101.73Z" fill="none" stroke="#0000ff" stroke-width="1.05"/>
<path d="M404.25 99.52L406.55 103.52L401.95 103.52Z" fill="none" stroke="#0000ff" stroke-width="1.05"/>
<path d="M406.92 102.87L409.22 106.87L404.62 106.87Z" fill="none" stroke="#0000ff" stroke-width="1.05"/>
<path d="M408.6 104.67L410.9 108.67L406.3 108.67Z" fill="none" stroke="#0000ff" stroke-width="1.05"/>
<path d="M411.58 112.4L413.88 116.4L409.28 116.4Z" fill="none" stroke="#0000ff" stroke-width="1.05"/>
<path d="M413.65 113.89L415.95 117.89L411.35 117.89Z" fill="none" stroke="#0000ff" stroke-width="1.05"/>
<path d="M416.34 121.93L418.64 125.93L414.04 125.93Z" fill="none" stroke="#0000ff" stroke-width="1.05"/>
<path d="M418.74 127.13L421.04 131.13L416.44 131.13Z" fill="none" stroke="#0000ff" stroke-width="1.05"/>
<path d="M421.66 133.39L423.96 137.39L419.36 137.39Z" fill="none" stroke="#0000ff" stroke-width="1.05"/>
<path d="M423.71 136.08L426.01 140.08L421.41 140.08Z" fill="none" stroke="#0000ff" stroke-width="1.05"/>
<path d="M425.77 140.47L428.07 144.47L423.47 144.47Z" fill="none" stroke="#0000ff" stroke-width="1.05"/>
<path d="M428.68 145.74L430.98 149.74L426.38 149.74Z" fill="none" stroke="#0000ff" stroke-width="1.05"/>
<path d="M430.78 147.45L433.08 151.45L428.48 151.45Z" fill="none" stroke="#0000ff" stroke-width="1.05"/>
<path d="M433.23 151.95L435.53 155.95L430.93 155.95Z" fill="none" stroke="#0000ff" stroke-width="1.05"/>
<path d="M436.42 153.21L438.72 157.21L434.12 157.21Z" fill="none" stroke="#0000ff" stroke-width="1.05"/>
<path d="M438.54 155.84L440.84 159.84L436.24 159.84Z" fill="none" stroke="#0000ff" stroke-width="1.05"/>
<path d="M441.35 157.62L443.65 161.62L439.05 161.62Z" fill="none" stroke="#0000ff" stroke-width="1.05"/>
<path d="M443.87 159.38L446.17 163.38L441.57 163.38Z" fill="none" stroke="#0000ff" stroke-width="1.05"/>
<path d="M446.56 159.5L448.86 163.5L444.26 163.5Z" fill="none" stroke="#0000ff" stroke-width="1.05"/>
<path d="M448.6 160.13L450.9 164.13L446.3 164.13Z" fill="none" stroke="#0000ff" stroke-width="1.05"/>
<path d="M451.13 161.79L453.43 165.79L448.83 165.79Z" fill="none" stroke="#0000ff" stroke-width="1.05"/>
<rect x="302" y="85.7" width="80.8" height="79.8" fill="rgb(185,185,185)" fill-opacity="0.486"/>
<rect x="382.8" y="85.7" width="14.6" height="79.8" fill="rgb(255,255,116)" fill-opacity="0.43"/>
<rect x="216.46" y="243.94" width="3.7" height="3.7" fill="none" stroke="#00ff00" stroke-width="1.05"/>
<rect x="223.82" y="243.57" width="3.7" height="3.7" fill="none" stroke="#00ff00" stroke-width="1.05"/>
<rect x="226.25" y="243.55" width="3.7" height="3.7" fill="none" stroke="#00ff00" stroke-width="1.05"/>
<rect x="229.02" y="243.33" width="3.7" height="3.7" fill="none" stroke="#00ff00" stroke-width="1.05"/>
<rect x="231.9" y="242.31" width="3.7" height="3.7" fill="none" stroke="#00ff00" stroke-width="1.05"/>
<rect x="234.42" y="240.88" width="3.7" height="3.7" fill="none" stroke="#00ff00" stroke-width="1.05"/>
<rect x="237.48" y="240.44" width="3.7" height="3.7" fill="none" stroke="#00ff00" stroke-width="1.05"/>
<rect x="240.09" y="238.39" width="3.7" height="3.7" fill="none" stroke="#00ff00" stroke-width="1.05"/>
<rect x="242.46" y="233.91" width="3.7" height="3.7" fill="none" stroke="#00ff00" stroke-width="1.05"/>
<rect x="244.75" y="230.95" width="3.7" height="3.7" fill="none" stroke="#00ff00" stroke-width="1.05"/>
<rect x="247.64" y="228.95" width="3.7" height="3.7" fill="none" stroke="#00ff00" stroke-width="1.05"/>
<rect x="250.04" y="222.4" width="3.7" height="3.7" fill="none" stroke="#00ff00" stroke-width="1.05"/>
<rect x="252.82" y="212.47" width="3.7" height="3.7" fill="none" stroke="#00ff00" stroke-width="1.05"/>
<rect x="255.88" y="207.14" width="3.7" height="3.7" fill="none" stroke="#00ff00" stroke-width="1.05"/>
<rect x="257.63" y="206.03" width="3.7" height="3.7" fill="none" stroke="#00ff00" stroke-width="1.05"/>
<rect x="260.01" y="194.34" width="3.7" height="3.7" fill="none" stroke="#00ff00" stroke-width="1.05"/>
<rect x="262.93" y="182.47" width="3.7" height="3.7" fill="none" stroke="#00ff00" stroke-width="1.05"/>
<rect x="266.15" y="182.72" width="3.7" height="3.7" fill="none" stroke="#00ff00" stroke-width="1.05"/>
<rect x="268.81" y="174.78" width="3.7" height="3.7" fill="none" stroke="#00ff00" stroke-width="1.05"/>
<rect x="271.67" y="173.73" width="3.7" height="3.7" fill="none" stroke="#00ff00" stroke-width="1.05"/>
<rect x="273.8" y="172.8" width="3.7" height="3.7" fill="none" stroke="#00ff00" stroke-width="1.05"/>
<rect x="276.14" y="175.28" width="3.7" height="3.7" fill="none" stroke="#00ff00" stroke-width="1.05"/>
<rect x="278.31" y="176.39" width="3.7" height="3.7" fill="none" stroke="#00ff00" stroke-width="1.05"/>
<rect x="281.02" y="177.86" width="3.7" height="3.7" fill="none" stroke="#00ff00" stroke-width="1.05"/>
<rect x="284.14" y="183.26" width="3.7" height="3.7" fill="none" stroke="#00ff00" stroke-width="1.05"/>
<rect x="286.28" y="188.86" width="3.7" height="3.7" fill="none" stroke="#00ff00" stroke-width="1.05"/>
<rect x="288.75" y="197.06" width="3.7" height="3.7" fill="none" stroke="#00ff00" stroke-width="1.05"/>
<rect x="291.12" y="205.3" width="3.7" height="3.7" fill="none" stroke="#00ff00" stroke-width="1.05"/>
<rect x="293.92" y="212.92" width="3.7" height="3.7" fill="none" stroke="#00ff00" stroke-width="1.05"/>
<rect x="296" y="218.74" width="3.7" height="3.7" fill="none" stroke="#00ff00" stroke-width="1.05"/>
<rect x="299.33" y="224.65" width="3.7" height="3.7" fill="none" stroke="#00ff00" stroke-width="1.05"/>
<rect x="301.31" y="228.21" width="3.7" height="3.7" fill="none" stroke="#00ff00" stroke-width="1.05"/>
<rect x="303.82" y="230.58" width="3.7" height="3.7" fill="none" stroke="#00ff00" stroke-width="1.05"/>
<rect x="306.33" y="235.08" width="3.7" height="3.7" fill="none" stroke="#00ff00" stroke-width="1.05"/>
<rect x="308.45" y="238.76" width="3.7" height="3.7" fill="none" stroke="#00ff00" stroke-width="1.05"/>
<rect x="311" y="240.57" width="3.7" height="3.7" fill="none" stroke="#00ff00" stroke-width="1.05"/>
<rect x="313" y="241.23" width="3.7" height="3.7" fill="none" stroke="#00ff00" stroke-width="1.05"/>
<rect x="315.26" y="242.3" width="3.7" height="3.7" fill="none" stroke="#00ff00" stroke-width="1.05"/>
<rect x="318.27" y="242.83" width="3.7" height="3.7" fill="none" stroke="#00ff00" stroke-width="1.05"/>
<rect x="320.49" y="243.85" width="3.7" height="3.7" fill="none" stroke="#00ff00" stroke-width="1.05"/>
<rect x="322.27" y="243.56" width="3.7" height="3.7" fill="none" stroke="#00ff00" stroke-width="1.05"/>
<rect x="325.81" y="243.6" width="3.7" height="3.7" fill="none" stroke="#00ff00" stroke-width="1.05"/>
<circle cx="334.52" cy="246" r="2.15" fill="none" stroke="#ff0000" stroke-width="1.05"/>
<circle cx="337.26" cy="245.89" r="2.15" fill="none" stroke="#ff0000" stroke-width="1.05"/>
<circle cx="339.58" cy="245.77" r="2.15" fill="none" stroke="#ff0000" stroke-width="1.05"/>
<circle cx="345.16" cy="245.65" r="2.15" fill="none" stroke="#ff0000" stroke-width="1.05"/>
<circle cx="348.42" cy="244.98" r="2.15" fill="none" stroke="#ff0000" stroke-width="1.05"/>
<circle cx="351" cy="244.44" r="2.15" fill="none" stroke="#ff0000" stroke-width="1.05"/>
<circle cx="353.73" cy="244.46" r="2.15" fill="none" stroke="#ff0000" stroke-width="1.05"/>
<circle cx="356.14" cy="243.28" r="2.15" fill="none" stroke="#ff0000" stroke-width="1.05"/>
<circle cx="358.12" cy="242.32" r="2.15" fill="none" stroke="#ff0000" stroke-width="1.05"/>
<circle cx="361.33" cy="240.11" r="2.15" fill="none" stroke="#ff0000" stroke-width="1.05"/>
<circle cx="363.48" cy="236.27" r="2.15" fill="none" stroke="#ff0000" stroke-width="1.05"/>
<circle cx="365.89" cy="232.56" r="2.15" fill="none" stroke="#ff0000" stroke-width="1.05"/>
<circle cx="367.83" cy="231.34" r="2.15" fill="none" stroke="#ff0000" stroke-width="1.05"/>
<circle cx="370.59" cy="223.81" r="2.15" fill="none" stroke="#ff0000" stroke-width="1.05"/>
<circle cx="373.42" cy="217.21" r="2.15" fill="none" stroke="#ff0000" stroke-width="1.05"/>
<circle cx="376.22" cy="212.56" r="2.15" fill="none" stroke="#ff0000" stroke-width="1.05"/>
<circle cx="379.66" cy="198.87" r="2.15" fill="none" stroke="#ff0000" stroke-width="1.05"/>
<circle cx="382.39" cy="189.82" r="2.15" fill="none" stroke="#ff0000" stroke-width="1.05"/>
<circle cx="384.76" cy="184.03" r="2.15" fill="none" stroke="#ff0000" stroke-width="1.05"/>
<circle cx="387.32" cy="179.7" r="2.15" fill="none" stroke="#ff0000" stroke-width="1.05"/>
<circle cx="390.33" cy="173.35" r="2.15" fill="none" stroke="#ff0000" stroke-width="1.05"/>
<circle cx="393.08" cy="171.79" r="2.15" fill="none" stroke="#ff0000" stroke-width="1.05"/>
<circle cx="396.08" cy="171.93" r="2.15" fill="none" stroke="#ff0000" stroke-width="1.05"/>
<circle cx="399.15" cy="168.65" r="2.15" fill="none" stroke="#ff0000" stroke-width="1.05"/>
<circle cx="401.09" cy="177.06" r="2.15" fill="none" stroke="#ff0000" stroke-width="1.05"/>
<circle cx="403.12" cy="178.35" r="2.15" fill="none" stroke="#ff0000" stroke-width="1.05"/>
<circle cx="405.8" cy="183.61" r="2.15" fill="none" stroke="#ff0000" stroke-width="1.05"/>
<circle cx="407.99" cy="194.41" r="2.15" fill="none" stroke="#ff0000" stroke-width="1.05"/>
<circle cx="409.93" cy="202.47" r="2.15" fill="none" stroke="#ff0000" stroke-width="1.05"/>
<circle cx="413.04" cy="208.93" r="2.15" fill="none" stroke="#ff0000" stroke-width="1.05"/>
<circle cx="415.98" cy="215.32" r="2.15" fill="none" stroke="#ff0000" stroke-width="1.05"/>
<circle cx="418.36" cy="223.19" r="2.15" fill="none" stroke="#ff0000" stroke-width="1.05"/>
<circle cx="421.38" cy="229.27" r="2.15" fill="none" stroke="#ff0000" stroke-width="1.05"/>
<circle cx="423.94" cy="229.91" r="2.15" fill="none" stroke="#ff0000" stroke-width="1.05"/>
<circle cx="426.05" cy="236.09" r="2.15" fill="none" stroke="#ff0000" stroke-width="1.05"/>
<circle cx="429.11" cy="238.76" r="2.15" fill="none" stroke="#ff0000" stroke-width="1.05"/>
<circle cx="432.1" cy="241.15" r="2.15" fill="none" stroke="#ff0000" stroke-width="1.05"/>
<circle cx="434.11" cy="243.35" r="2.15" fill="none" stroke="#ff0000" stroke-width="1.05"/>
<circle cx="436.48" cy="243.75" r="2.15" fill="none" stroke="#ff0000" stroke-width="1.05"/>
<circle cx="439.37" cy="244.43" r="2.15" fill="none" stroke="#ff0000" stroke-width="1.05"/>
<circle cx="441.07" cy="245.17" r="2.15" fill="none" stroke="#ff0000" stroke-width="1.05"/>
<circle cx="443.35" cy="245.13" r="2.15" fill="none" stroke="#ff0000" stroke-width="1.05"/>
<circle cx="445.68" cy="245.79" r="2.15" fill="none" stroke="#ff0000" stroke-width="1.05"/>
<circle cx="448.39" cy="245.72" r="2.15" fill="none" stroke="#ff0000" stroke-width="1.05"/>
<path d="M357.79 243.25L360.09 247.25L355.49 247.25Z" fill="none" stroke="#0000ff" stroke-width="1.05"/>
<path d="M362.87 243.3L365.17 247.3L360.57 247.3Z" fill="none" stroke="#0000ff" stroke-width="1.05"/>
<path d="M365.95 243.4L368.25 247.4L363.65 247.4Z" fill="none" stroke="#0000ff" stroke-width="1.05"/>
<path d="M368.62 243.06L370.92 247.06L366.32 247.06Z" fill="none" stroke="#0000ff" stroke-width="1.05"/>
<path d="M371.05 242.64L373.35 246.64L368.75 246.64Z" fill="none" stroke="#0000ff" stroke-width="1.05"/>
<path d="M374.17 240.87L376.47 244.87L371.87 244.87Z" fill="none" stroke="#0000ff" stroke-width="1.05"/>
<path d="M376.29 240.2L378.59 244.2L373.99 244.2Z" fill="none" stroke="#0000ff" stroke-width="1.05"/>
<path d="M379.71 237.68L382.01 241.68L377.41 241.68Z" fill="none" stroke="#0000ff" stroke-width="1.05"/>
<path d="M381.49 236.54L383.79 240.54L379.19 240.54Z" fill="none" stroke="#0000ff" stroke-width="1.05"/>
<path d="M384.57 234.91L386.87 238.91L382.27 238.91Z" fill="none" stroke="#0000ff" stroke-width="1.05"/>
<path d="M386.53 230.31L388.83 234.31L384.23 234.31Z" fill="none" stroke="#0000ff" stroke-width="1.05"/>
<path d="M389.2 223.47L391.5 227.47L386.9 227.47Z" fill="none" stroke="#0000ff" stroke-width="1.05"/>
<path d="M391.56 219.06L393.86 223.06L389.26 223.06Z" fill="none" stroke="#0000ff" stroke-width="1.05"/>
<path d="M394.96 212.62L397.26 216.62L392.66 216.62Z" fill="none" stroke="#0000ff" stroke-width="1.05"/>
<path d="M397.2 207.55L399.5 211.55L394.9 211.55Z" fill="none" stroke="#0000ff" stroke-width="1.05"/>
<path d="M399.46 199L401.76 203L397.16 203Z" fill="none" stroke="#0000ff" stroke-width="1.05"/>
<path d="M402.53 190.05L404.83 194.05L400.23 194.05Z" fill="none" stroke="#0000ff" stroke-width="1.05"/>
<path d="M405.41 182.97L407.71 186.97L403.11 186.97Z" fill="none" stroke="#0000ff" stroke-width="1.05"/>
<path d="M408.08 178.43L410.38 182.43L405.78 182.43Z" fill="none" stroke="#0000ff" stroke-width="1.05"/>
<path d="M410.81 172.14L413.11 176.14L408.51 176.14Z" fill="none" stroke="#0000ff" stroke-width="1.05"/>
<path d="M413.07 165.5L415.37 169.5L410.77 169.5Z" fill="none" stroke="#0000ff" stroke-width="1.05"/>
<path d="M415.08 168.18L417.38 172.18L412.78 172.18Z" fill="none" stroke="#0000ff" stroke-width="1.05"/>
<path d="M418.15 167.08L420.45 171.08L415.85 171.08Z" fill="none" stroke="#0000ff" stroke-width="1.05"/>
<path d="M420.26 170.06L422.56 174.06L417.96 174.06Z" fill="none" stroke="#0000ff" stroke-width="1.05"/>
<path d="M423.52 178.8L425.82 182.8L421.22 182.8Z" fill="none" stroke="#0000ff" stroke-width="1.05"/>
<path d="M426.22 187.42L428.52 191.42L423.92 191.42Z" fill="none" stroke="#0000ff" stroke-width="1.05"/>
<path d="M429.31 197.59L431.61 201.59L427.01 201.59Z" fill="none" stroke="#0000ff" stroke-width="1.05"/>
<path d="M432.21 204.1L434.51 208.1L429.91 208.1Z" fill="none" stroke="#0000ff" stroke-width="1.05"/>
<path d="M434.39 207.02L436.69 211.02L432.09 211.02Z" fill="none" stroke="#0000ff" stroke-width="1.05"/>
<path d="M437.08 212.37L439.38 216.37L434.78 216.37Z" fill="none" stroke="#0000ff" stroke-width="1.05"/>
<path d="M439.17 219.09L441.47 223.09L436.87 223.09Z" fill="none" stroke="#0000ff" stroke-width="1.05"/>
<path d="M442.17 227.31L444.47 231.31L439.87 231.31Z" fill="none" stroke="#0000ff" stroke-width="1.05"/>
<path d="M444.69 230.08L446.99 234.08L442.39 234.08Z" fill="none" stroke="#0000ff" stroke-width="1.05"/>
<path d="M447.05 234.89L449.35 238.89L444.75 238.89Z" fill="none" stroke="#0000ff" stroke-width="1.05"/>
<path d="M449.92 238.45L452.22 242.45L447.62 242.45Z" fill="none" stroke="#0000ff" stroke-width="1.05"/>
<path d="M452.68 238.95L454.98 242.95L450.38 242.95Z" fill="none" stroke="#0000ff" stroke-width="1.05"/>
<path d="M456.17 242.03L458.47 246.03L453.87 246.03Z" fill="none" stroke="#0000ff" stroke-width="1.05"/>
<path d="M458.75 241.91L461.05 245.91L456.45 245.91Z" fill="none" stroke="#0000ff" stroke-width="1.05"/>
<path d="M461.3 242.46L463.6 246.46L459 246.46Z" fill="none" stroke="#0000ff" stroke-width="1.05"/>
<path d="M464.1 243.37L466.4 247.37L461.8 247.37Z" fill="none" stroke="#0000ff" stroke-width="1.05"/>
<path d="M466.16 243.58L468.46 247.58L463.86 247.58Z" fill="none" stroke="#0000ff" stroke-width="1.05"/>
<path d="M468.54 243.38L470.84 247.38L466.24 247.38Z" fill="none" stroke="#0000ff" stroke-width="1.05"/>
<path d="M470.55 243.59L472.85 247.59L468.25 247.59Z" fill="none" stroke="#0000ff" stroke-width="1.05"/>
<rect x="276.3" y="166.9" width="117.4" height="79.9" fill="rgb(185,185,185)" fill-opacity="0.486"/>
<rect x="393.7" y="166.9" width="22.3" height="79.9" fill="rgb(255,255,116)" fill-opacity="0.43"/>
<line x1="208" y1="84.4" x2="210.5" y2="84.4" stroke="#4a4a4a" stroke-width="1"/>
<line x1="208" y1="74.23" x2="209.5" y2="74.23" stroke="#4a4a4a" stroke-width="1"/>
<line x1="208" y1="64.07" x2="210.5" y2="64.07" stroke="#4a4a4a" stroke-width="1"/>
<line x1="208" y1="53.91" x2="209.5" y2="53.91" stroke="#4a4a4a" stroke-width="1"/>
<line x1="208" y1="43.74" x2="210.5" y2="43.74" stroke="#4a4a4a" stroke-width="1"/>
<line x1="208" y1="33.58" x2="209.5" y2="33.58" stroke="#4a4a4a" stroke-width="1"/>
<line x1="208" y1="23.41" x2="210.5" y2="23.41" stroke="#4a4a4a" stroke-width="1"/>
<line x1="208" y1="13.25" x2="209.5" y2="13.25" stroke="#4a4a4a" stroke-width="1"/>
<line x1="208" y1="3.08" x2="210.5" y2="3.08" stroke="#4a4a4a" stroke-width="1"/>
<line x1="208" y1="85" x2="478.1" y2="85" stroke="#4a4a4a" stroke-width="1.5"/>
<line x1="208" y1="166.2" x2="210.5" y2="166.2" stroke="#4a4a4a" stroke-width="1"/>
<line x1="208" y1="153.56" x2="209.5" y2="153.56" stroke="#4a4a4a" stroke-width="1"/>
<line x1="208" y1="140.93" x2="210.5" y2="140.93" stroke="#4a4a4a" stroke-width="1"/>
<line x1="208" y1="128.29" x2="209.5" y2="128.29" stroke="#4a4a4a" stroke-width="1"/>
<line x1="208" y1="115.66" x2="210.5" y2="115.66" stroke="#4a4a4a" stroke-width="1"/>
<line x1="208" y1="103.02" x2="209.5" y2="103.02" stroke="#4a4a4a" stroke-width="1"/>
<line x1="208" y1="90.39" x2="210.5" y2="90.39" stroke="#4a4a4a" stroke-width="1"/>
<line x1="208" y1="166.2" x2="478.1" y2="166.2" stroke="#4a4a4a" stroke-width="1.5"/>
<line x1="208" y1="247.5" x2="210.5" y2="247.5" stroke="#4a4a4a" stroke-width="1"/>
<line x1="208" y1="234.99" x2="209.5" y2="234.99" stroke="#4a4a4a" stroke-width="1"/>
<line x1="208" y1="222.47" x2="210.5" y2="222.47" stroke="#4a4a4a" stroke-width="1"/>
<line x1="208" y1="209.95" x2="209.5" y2="209.95" stroke="#4a4a4a" stroke-width="1"/>
<line x1="208" y1="197.44" x2="210.5" y2="197.44" stroke="#4a4a4a" stroke-width="1"/>
<line x1="208" y1="184.93" x2="209.5" y2="184.93" stroke="#4a4a4a" stroke-width="1"/>
<line x1="208" y1="172.41" x2="210.5" y2="172.41" stroke="#4a4a4a" stroke-width="1"/>
<line x1="208" y1="247.5" x2="478.1" y2="247.5" stroke="#4a4a4a" stroke-width="1.5"/>
<rect x="208" y="3.2" width="270.1" height="244.3" fill="none" stroke="#4a4a4a" stroke-width="1.7"/>
<text x="212.4" y="14.75" font-size="11.3">(a)</text>
<text x="211.4" y="31.9" font-size="10.6"><tspan font-style="italic">k</tspan>=30</text>
<text x="211.4" y="99" font-size="11.3">(b)</text>
<text x="211.6" y="112.8" font-size="10.6"><tspan font-style="italic">k</tspan>=50</text>
<text x="210.2" y="177.5" font-size="11.3">(c)</text>
<text x="211" y="192.4" font-size="10.6"><tspan font-style="italic">k</tspan>=120</text>
<rect x="430.6" y="5" width="45.9" height="55.2" fill="#fff" stroke="#aaa" stroke-width="0.8"/>
<text x="435.5" y="15" font-size="11"><tspan font-style="italic">x</tspan><tspan font-size="7.5" dy="2.5">ind</tspan><tspan dy="-2.5">=</tspan></text>
<rect x="435.55" y="26.75" width="3.7" height="3.7" fill="none" stroke="#00ff00" stroke-width="1.05"/>
<circle cx="437.4" cy="41.6" r="2.15" fill="none" stroke="#ff0000" stroke-width="1.05"/>
<path d="M437.4 51.8L439.7 55.8L435.1 55.8Z" fill="none" stroke="#0000ff" stroke-width="1.05"/>
<text x="452" y="31" font-size="10">0</text>
<text x="452" y="43.8" font-size="10.2">0.947</text>
<text x="452" y="56.8" font-size="10">1</text>
<text transform="translate(189.8,125.5) rotate(-90)" font-size="14" text-anchor="middle">Counts</text>
<text transform="translate(336.9,266.2) scale(0.82,1)" x="0" y="0" font-size="12.4" font-style="italic" font-weight="bold" font-family="DejaVu Serif, serif">&#967;</text>
<text x="344.3" y="259.2" font-size="8.8">2</text>
<line x1="65.35" y1="287.8" x2="65.35" y2="504.4" stroke="#c2c2c2" stroke-width="1" stroke-dasharray="4.2 3.1"/>
<line x1="91.1" y1="287.8" x2="91.1" y2="504.4" stroke="#c2c2c2" stroke-width="1" stroke-dasharray="4.2 3.1"/>
<line x1="116.85" y1="287.8" x2="116.85" y2="504.4" stroke="#c2c2c2" stroke-width="1" stroke-dasharray="4.2 3.1"/>
<line x1="142.6" y1="287.8" x2="142.6" y2="504.4" stroke="#c2c2c2" stroke-width="1" stroke-dasharray="4.2 3.1"/>
<line x1="168.35" y1="287.8" x2="168.35" y2="504.4" stroke="#c2c2c2" stroke-width="1" stroke-dasharray="4.2 3.1"/>
<line x1="194.1" y1="287.8" x2="194.1" y2="504.4" stroke="#c2c2c2" stroke-width="1" stroke-dasharray="4.2 3.1"/>
<line x1="219.85" y1="287.8" x2="219.85" y2="504.4" stroke="#c2c2c2" stroke-width="1" stroke-dasharray="4.2 3.1"/>
<line x1="245.6" y1="287.8" x2="245.6" y2="504.4" stroke="#c2c2c2" stroke-width="1" stroke-dasharray="4.2 3.1"/>
<line x1="271.35" y1="287.8" x2="271.35" y2="504.4" stroke="#c2c2c2" stroke-width="1" stroke-dasharray="4.2 3.1"/>
<line x1="297.1" y1="287.8" x2="297.1" y2="504.4" stroke="#c2c2c2" stroke-width="1" stroke-dasharray="4.2 3.1"/>
<line x1="40.6" y1="480.35" x2="310" y2="480.35" stroke="#c2c2c2" stroke-width="1" stroke-dasharray="4.2 3.1"/>
<line x1="40.6" y1="432.08" x2="310" y2="432.08" stroke="#c2c2c2" stroke-width="1" stroke-dasharray="4.2 3.1"/>
<line x1="40.6" y1="383.8" x2="310" y2="383.8" stroke="#c2c2c2" stroke-width="1" stroke-dasharray="4.2 3.1"/>
<line x1="40.6" y1="335.53" x2="310" y2="335.53" stroke="#c2c2c2" stroke-width="1" stroke-dasharray="4.2 3.1"/>
<rect x="39.6" y="286.8" width="270.4" height="217.6" fill="none" stroke="#000" stroke-width="1.2"/>
<line x1="39.6" y1="504.4" x2="39.6" y2="500.4" stroke="#000" stroke-width="1"/>
<text x="39.6" y="517.3" font-size="10" text-anchor="middle">0</text>
<line x1="52.48" y1="504.4" x2="52.48" y2="502.6" stroke="#000" stroke-width="1"/>
<line x1="65.35" y1="504.4" x2="65.35" y2="500.4" stroke="#000" stroke-width="1"/>
<text x="65.35" y="517.3" font-size="10" text-anchor="middle">20</text>
<line x1="78.22" y1="504.4" x2="78.22" y2="502.6" stroke="#000" stroke-width="1"/>
<line x1="91.1" y1="504.4" x2="91.1" y2="500.4" stroke="#000" stroke-width="1"/>
<text x="91.1" y="517.3" font-size="10" text-anchor="middle">40</text>
<line x1="103.97" y1="504.4" x2="103.97" y2="502.6" stroke="#000" stroke-width="1"/>
<line x1="116.85" y1="504.4" x2="116.85" y2="500.4" stroke="#000" stroke-width="1"/>
<text x="116.85" y="517.3" font-size="10" text-anchor="middle">60</text>
<line x1="129.72" y1="504.4" x2="129.72" y2="502.6" stroke="#000" stroke-width="1"/>
<line x1="142.6" y1="504.4" x2="142.6" y2="500.4" stroke="#000" stroke-width="1"/>
<text x="142.6" y="517.3" font-size="10" text-anchor="middle">80</text>
<line x1="155.48" y1="504.4" x2="155.48" y2="502.6" stroke="#000" stroke-width="1"/>
<line x1="168.35" y1="504.4" x2="168.35" y2="500.4" stroke="#000" stroke-width="1"/>
<text x="168.35" y="517.3" font-size="10" text-anchor="middle">100</text>
<line x1="181.22" y1="504.4" x2="181.22" y2="502.6" stroke="#000" stroke-width="1"/>
<line x1="194.1" y1="504.4" x2="194.1" y2="500.4" stroke="#000" stroke-width="1"/>
<text x="194.1" y="517.3" font-size="10" text-anchor="middle">120</text>
<line x1="206.97" y1="504.4" x2="206.97" y2="502.6" stroke="#000" stroke-width="1"/>
<line x1="219.85" y1="504.4" x2="219.85" y2="500.4" stroke="#000" stroke-width="1"/>
<text x="219.85" y="517.3" font-size="10" text-anchor="middle">140</text>
<line x1="232.72" y1="504.4" x2="232.72" y2="502.6" stroke="#000" stroke-width="1"/>
<line x1="245.6" y1="504.4" x2="245.6" y2="500.4" stroke="#000" stroke-width="1"/>
<text x="245.6" y="517.3" font-size="10" text-anchor="middle">160</text>
<line x1="258.48" y1="504.4" x2="258.48" y2="502.6" stroke="#000" stroke-width="1"/>
<line x1="271.35" y1="504.4" x2="271.35" y2="500.4" stroke="#000" stroke-width="1"/>
<text x="271.35" y="517.3" font-size="10" text-anchor="middle">180</text>
<line x1="284.23" y1="504.4" x2="284.23" y2="502.6" stroke="#000" stroke-width="1"/>
<line x1="297.1" y1="504.4" x2="297.1" y2="500.4" stroke="#000" stroke-width="1"/>
<text x="297.1" y="517.3" font-size="10" text-anchor="middle">200</text>
<line x1="309.98" y1="504.4" x2="309.98" y2="502.6" stroke="#000" stroke-width="1"/>
<line x1="39.6" y1="480.35" x2="43.2" y2="480.35" stroke="#000" stroke-width="1"/>
<line x1="310" y1="480.35" x2="306.4" y2="480.35" stroke="#000" stroke-width="1"/>
<text x="34.6" y="483.25" font-size="10" text-anchor="end">0.00</text>
<text x="314.6" y="483.45" font-size="10.2">0.0</text>
<line x1="39.6" y1="456.21" x2="41.2" y2="456.21" stroke="#000" stroke-width="1"/>
<line x1="310" y1="456.21" x2="308.4" y2="456.21" stroke="#000" stroke-width="1"/>
<line x1="39.6" y1="432.08" x2="43.2" y2="432.08" stroke="#000" stroke-width="1"/>
<line x1="310" y1="432.08" x2="306.4" y2="432.08" stroke="#000" stroke-width="1"/>
<text x="34.6" y="434.98" font-size="10" text-anchor="end">0.05</text>
<text x="314.6" y="435.18" font-size="10.2">0.2</text>
<line x1="39.6" y1="407.94" x2="41.2" y2="407.94" stroke="#000" stroke-width="1"/>
<line x1="310" y1="407.94" x2="308.4" y2="407.94" stroke="#000" stroke-width="1"/>
<line x1="39.6" y1="383.8" x2="43.2" y2="383.8" stroke="#000" stroke-width="1"/>
<line x1="310" y1="383.8" x2="306.4" y2="383.8" stroke="#000" stroke-width="1"/>
<text x="34.6" y="386.7" font-size="10" text-anchor="end">0.10</text>
<text x="314.6" y="386.9" font-size="10.2">0.4</text>
<line x1="39.6" y1="359.66" x2="41.2" y2="359.66" stroke="#000" stroke-width="1"/>
<line x1="310" y1="359.66" x2="308.4" y2="359.66" stroke="#000" stroke-width="1"/>
<line x1="39.6" y1="335.52" x2="43.2" y2="335.52" stroke="#000" stroke-width="1"/>
<line x1="310" y1="335.52" x2="306.4" y2="335.52" stroke="#000" stroke-width="1"/>
<text x="34.6" y="338.42" font-size="10" text-anchor="end">0.15</text>
<text x="314.6" y="338.62" font-size="10.2">0.6</text>
<line x1="39.6" y1="311.39" x2="41.2" y2="311.39" stroke="#000" stroke-width="1"/>
<line x1="310" y1="311.39" x2="308.4" y2="311.39" stroke="#000" stroke-width="1"/>
<line x1="39.6" y1="287.25" x2="43.2" y2="287.25" stroke="#000" stroke-width="1"/>
<line x1="310" y1="287.25" x2="306.4" y2="287.25" stroke="#000" stroke-width="1"/>
<text x="34.6" y="290.15" font-size="10" text-anchor="end">0.20</text>
<text x="314.6" y="290.35" font-size="10.2">0.8</text>
<text x="43.2" y="302.6" font-size="13.9">(d)</text>
<circle cx="52.48" cy="495.6" r="3.6" fill="none" stroke="#ff0000" stroke-width="1.4"/>
<rect x="49.52" y="482.23" width="5.9" height="5.9" fill="none" stroke="#0000ff" stroke-width="1.4"/>
<circle cx="65.35" cy="456.79" r="3.6" fill="none" stroke="#ff0000" stroke-width="1.4"/>
<rect x="62.4" y="471.85" width="5.9" height="5.9" fill="none" stroke="#0000ff" stroke-width="1.4"/>
<circle cx="78.22" cy="440.76" r="3.6" fill="none" stroke="#ff0000" stroke-width="1.4"/>
<rect x="75.27" y="468.71" width="5.9" height="5.9" fill="none" stroke="#0000ff" stroke-width="1.4"/>
<circle cx="91.1" cy="377.04" r="3.6" fill="none" stroke="#ff0000" stroke-width="1.4"/>
<rect x="88.15" y="428.52" width="5.9" height="5.9" fill="none" stroke="#0000ff" stroke-width="1.4"/>
<circle cx="103.97" cy="331.66" r="3.6" fill="none" stroke="#ff0000" stroke-width="1.4"/>
<rect x="101.02" y="394.61" width="5.9" height="5.9" fill="none" stroke="#0000ff" stroke-width="1.4"/>
<circle cx="116.85" cy="345.18" r="3.6" fill="none" stroke="#ff0000" stroke-width="1.4"/>
<rect x="113.9" y="402.57" width="5.9" height="5.9" fill="none" stroke="#0000ff" stroke-width="1.4"/>
<circle cx="129.72" cy="342.28" r="3.6" fill="none" stroke="#ff0000" stroke-width="1.4"/>
<rect x="126.77" y="388.09" width="5.9" height="5.9" fill="none" stroke="#0000ff" stroke-width="1.4"/>
<circle cx="142.6" cy="345.57" r="3.6" fill="none" stroke="#ff0000" stroke-width="1.4"/>
<rect x="139.65" y="379.88" width="5.9" height="5.9" fill="none" stroke="#0000ff" stroke-width="1.4"/>
<circle cx="155.48" cy="357.73" r="3.6" fill="none" stroke="#ff0000" stroke-width="1.4"/>
<rect x="152.53" y="367.33" width="5.9" height="5.9" fill="none" stroke="#0000ff" stroke-width="1.4"/>
<circle cx="168.35" cy="323.94" r="3.6" fill="none" stroke="#ff0000" stroke-width="1.4"/>
<rect x="165.4" y="333.54" width="5.9" height="5.9" fill="none" stroke="#0000ff" stroke-width="1.4"/>
<circle cx="181.22" cy="339.39" r="3.6" fill="none" stroke="#ff0000" stroke-width="1.4"/>
<rect x="178.28" y="353.09" width="5.9" height="5.9" fill="none" stroke="#0000ff" stroke-width="1.4"/>
<circle cx="194.1" cy="330.7" r="3.6" fill="none" stroke="#ff0000" stroke-width="1.4"/>
<rect x="191.15" y="340.06" width="5.9" height="5.9" fill="none" stroke="#0000ff" stroke-width="1.4"/>
<circle cx="206.97" cy="350.01" r="3.6" fill="none" stroke="#ff0000" stroke-width="1.4"/>
<rect x="204.03" y="340.06" width="5.9" height="5.9" fill="none" stroke="#0000ff" stroke-width="1.4"/>
<circle cx="219.85" cy="327.8" r="3.6" fill="none" stroke="#ff0000" stroke-width="1.4"/>
<rect x="216.9" y="312.3" width="5.9" height="5.9" fill="none" stroke="#0000ff" stroke-width="1.4"/>
<circle cx="232.72" cy="326.84" r="3.6" fill="none" stroke="#ff0000" stroke-width="1.4"/>
<rect x="229.78" y="332.09" width="5.9" height="5.9" fill="none" stroke="#0000ff" stroke-width="1.4"/>
<circle cx="245.6" cy="328.77" r="3.6" fill="none" stroke="#ff0000" stroke-width="1.4"/>
<rect x="242.65" y="318.58" width="5.9" height="5.9" fill="none" stroke="#0000ff" stroke-width="1.4"/>
<circle cx="258.48" cy="340.35" r="3.6" fill="none" stroke="#ff0000" stroke-width="1.4"/>
<rect x="255.53" y="331.13" width="5.9" height="5.9" fill="none" stroke="#0000ff" stroke-width="1.4"/>
<circle cx="271.35" cy="341.32" r="3.6" fill="none" stroke="#ff0000" stroke-width="1.4"/>
<rect x="268.4" y="331.13" width="5.9" height="5.9" fill="none" stroke="#0000ff" stroke-width="1.4"/>
<circle cx="284.23" cy="332.63" r="3.6" fill="none" stroke="#ff0000" stroke-width="1.4"/>
<rect x="281.28" y="322.2" width="5.9" height="5.9" fill="none" stroke="#0000ff" stroke-width="1.4"/>
<circle cx="297.1" cy="335.53" r="3.6" fill="none" stroke="#ff0000" stroke-width="1.4"/>
<rect x="294.15" y="322.2" width="5.9" height="5.9" fill="none" stroke="#0000ff" stroke-width="1.4"/>
<line x1="97.6" y1="331.4" x2="58" y2="331.4" stroke="#ff0000" stroke-width="1.2"/>
<path d="M53 331.4L59.5 328.9L59.5 333.9Z" fill="#ff0000"/>
<line x1="122.8" y1="405.5" x2="176" y2="405.5" stroke="#0000ff" stroke-width="1.2"/>
<path d="M181.3 405.5L175.2 403.2L175.2 407.8Z" fill="#0000ff"/>
<text transform="translate(10,396) rotate(-90)" font-size="18" text-anchor="middle" font-style="italic">r<tspan font-style="normal" font-size="11.5" dy="4.3">1</tspan></text>
<text transform="translate(341.8,396) rotate(-90)" font-size="18" text-anchor="middle" font-style="italic">r<tspan font-style="normal" font-size="12.5" dy="4.7">2</tspan></text>
<text x="171" y="532.5" font-size="13.5" font-style="italic">k</text>
<line x1="408" y1="503.1" x2="408" y2="499.5" stroke="#000" stroke-width="1"/>
<text x="408" y="516.2" font-size="10.3" text-anchor="middle">0.0</text>
<line x1="408" y1="503.1" x2="411.6" y2="503.1" stroke="#000" stroke-width="1"/>
<text x="403.5" y="506.5" font-size="10.3" text-anchor="end">0</text>
<line x1="435.02" y1="503.1" x2="435.02" y2="501.5" stroke="#000" stroke-width="1"/>
<line x1="408" y1="481.34" x2="409.6" y2="481.34" stroke="#000" stroke-width="1"/>
<line x1="462.04" y1="503.1" x2="462.04" y2="499.5" stroke="#000" stroke-width="1"/>
<text x="462.04" y="516.2" font-size="10.3" text-anchor="middle">0.2</text>
<line x1="408" y1="459.58" x2="411.6" y2="459.58" stroke="#000" stroke-width="1"/>
<text x="403.5" y="462.98" font-size="10.3" text-anchor="end">200</text>
<line x1="489.06" y1="503.1" x2="489.06" y2="501.5" stroke="#000" stroke-width="1"/>
<line x1="408" y1="437.82" x2="409.6" y2="437.82" stroke="#000" stroke-width="1"/>
<line x1="516.08" y1="503.1" x2="516.08" y2="499.5" stroke="#000" stroke-width="1"/>
<text x="516.08" y="516.2" font-size="10.3" text-anchor="middle">0.4</text>
<line x1="408" y1="416.06" x2="411.6" y2="416.06" stroke="#000" stroke-width="1"/>
<text x="403.5" y="419.46" font-size="10.3" text-anchor="end">400</text>
<line x1="543.1" y1="503.1" x2="543.1" y2="501.5" stroke="#000" stroke-width="1"/>
<line x1="408" y1="394.3" x2="409.6" y2="394.3" stroke="#000" stroke-width="1"/>
<line x1="570.12" y1="503.1" x2="570.12" y2="499.5" stroke="#000" stroke-width="1"/>
<text x="570.12" y="516.2" font-size="10.3" text-anchor="middle">0.6</text>
<line x1="408" y1="372.54" x2="411.6" y2="372.54" stroke="#000" stroke-width="1"/>
<text x="403.5" y="375.94" font-size="10.3" text-anchor="end">600</text>
<line x1="597.14" y1="503.1" x2="597.14" y2="501.5" stroke="#000" stroke-width="1"/>
<line x1="408" y1="350.78" x2="409.6" y2="350.78" stroke="#000" stroke-width="1"/>
<line x1="624.16" y1="503.1" x2="624.16" y2="499.5" stroke="#000" stroke-width="1"/>
<text x="624.16" y="516.2" font-size="10.3" text-anchor="middle">0.8</text>
<line x1="408" y1="329.02" x2="411.6" y2="329.02" stroke="#000" stroke-width="1"/>
<text x="403.5" y="332.42" font-size="10.3" text-anchor="end">800</text>
<line x1="651.18" y1="503.1" x2="651.18" y2="501.5" stroke="#000" stroke-width="1"/>
<line x1="408" y1="307.26" x2="409.6" y2="307.26" stroke="#000" stroke-width="1"/>
<line x1="678.2" y1="503.1" x2="678.2" y2="499.5" stroke="#000" stroke-width="1"/>
<text x="678.2" y="516.2" font-size="10.3" text-anchor="middle">1.0</text>
<line x1="408" y1="285.5" x2="411.6" y2="285.5" stroke="#000" stroke-width="1"/>
<text x="403.5" y="288.9" font-size="10.3" text-anchor="end">1000</text>
<polyline points="408,503.1 409.69,502 411.38,500.89 413.07,499.78 414.75,498.66 416.44,497.54 418.13,496.4 419.82,495.27 421.51,494.12 423.2,492.98 424.89,491.82 426.58,490.66 428.26,489.5 429.95,488.33 431.64,487.15 433.33,485.97 435.02,484.78 436.71,483.59 438.4,482.4 440.09,481.2 441.77,480 443.46,478.79 445.15,477.58 446.84,476.36 448.53,475.14 450.22,473.91 451.91,472.69 453.6,471.45 455.29,470.22 456.97,468.98 458.66,467.74 460.35,466.49 462.04,465.24 463.73,463.99 465.42,462.73 467.11,461.47 468.8,460.21 470.48,458.94 472.17,457.68 473.86,456.41 475.55,455.13 477.24,453.85 478.93,452.58 480.62,451.29 482.31,450.01 483.99,448.72 485.68,447.44 487.37,446.14 489.06,444.85 490.75,443.56 492.44,442.26 494.13,440.96 495.81,439.66 497.5,438.35 499.19,437.05 500.88,435.74 502.57,434.43 504.26,433.12 505.95,431.81 507.64,430.5 509.33,429.18 511.01,427.87 512.7,426.55 514.39,425.23 516.08,423.91 517.77,422.59 519.46,421.26 521.15,419.94 522.84,418.62 524.52,417.29 526.21,415.96 527.9,414.64 529.59,413.31 531.28,411.98 532.97,410.65 534.66,409.32 536.35,407.99 538.03,406.65 539.72,405.32 541.41,403.99 543.1,402.66 544.79,401.32 546.48,399.99 548.17,398.66 549.86,397.32 551.54,395.99 553.23,394.66 554.92,393.32 556.61,391.99 558.3,390.66 559.99,389.32 561.68,387.99 563.37,386.66 565.05,385.33 566.74,384 568.43,382.67 570.12,381.34 571.81,380.01 573.5,378.68 575.19,377.35 576.88,376.02 578.56,374.7 580.25,373.37 581.94,372.05 583.63,370.72 585.32,369.4 587.01,368.07 588.7,366.75 590.38,365.43 592.07,364.11 593.76,362.79 595.45,361.46 597.14,360.14 598.83,358.82 600.52,357.5 602.21,356.18 603.89,354.86 605.58,353.54 607.27,352.21 608.96,350.89 610.65,349.56 612.34,348.24 614.03,346.9 615.72,345.57 617.4,344.24 619.09,342.9 620.78,341.55 622.47,340.21 624.16,338.85 625.85,337.49 627.54,336.13 629.23,334.76 630.91,333.38 632.6,331.99 634.29,330.59 635.98,329.18 637.67,327.75 639.36,326.32 641.05,324.87 642.74,323.4 644.43,321.92 646.11,320.42 647.8,318.89 649.49,317.35 651.18,315.78 652.87,314.19 654.56,312.57 656.25,310.92 657.94,309.23 659.62,307.52 661.31,305.76 663,303.97 664.69,302.13 666.38,300.25 668.07,298.31 669.76,296.33 671.45,294.29 673.13,292.19 674.82,290.03 676.51,287.8 678.2,285.5" fill="none" stroke="#008000" stroke-width="1.3" stroke-dasharray="6 3 1.2 3"/>
<polyline points="408,503.1 409.69,502.21 411.38,501.31 413.07,500.42 414.75,499.53 416.44,498.65 418.13,497.76 419.82,496.87 421.51,495.98 423.2,495.09 424.89,494.2 426.58,493.32 428.26,492.43 429.95,491.54 431.64,490.65 433.33,489.76 435.02,488.87 436.71,487.97 438.4,487.08 440.09,486.18 441.77,485.28 443.46,484.38 445.15,483.48 446.84,482.58 448.53,481.67 450.22,480.76 451.91,479.85 453.6,478.93 455.29,478.01 456.97,477.09 458.66,476.17 460.35,475.24 462.04,474.31 463.73,473.37 465.42,472.43 467.11,471.49 468.8,470.54 470.48,469.59 472.17,468.63 473.86,467.67 475.55,466.71 477.24,465.74 478.93,464.76 480.62,463.78 482.31,462.79 483.99,461.8 485.68,460.81 487.37,459.8 489.06,458.79 490.75,457.78 492.44,456.76 494.13,455.73 495.81,454.7 497.5,453.66 499.19,452.62 500.88,451.56 502.57,450.51 504.26,449.44 505.95,448.37 507.64,447.29 509.33,446.2 511.01,445.11 512.7,444.01 514.39,442.9 516.08,441.78 517.77,440.66 519.46,439.53 521.15,438.39 522.84,437.25 524.52,436.09 526.21,434.93 527.9,433.76 529.59,432.58 531.28,431.4 532.97,430.2 534.66,429 536.35,427.79 538.03,426.57 539.72,425.34 541.41,424.11 543.1,422.86 544.79,421.61 546.48,420.35 548.17,419.08 549.86,417.8 551.54,416.51 553.23,415.21 554.92,413.91 556.61,412.6 558.3,411.27 559.99,409.94 561.68,408.6 563.37,407.25 565.05,405.89 566.74,404.53 568.43,403.15 570.12,401.77 571.81,400.37 573.5,398.97 575.19,397.56 576.88,396.14 578.56,394.71 580.25,393.27 581.94,391.82 583.63,390.36 585.32,388.89 587.01,387.42 588.7,385.93 590.38,384.44 592.07,382.93 593.76,381.42 595.45,379.89 597.14,378.36 598.83,376.82 600.52,375.26 602.21,373.7 603.89,372.13 605.58,370.54 607.27,368.95 608.96,367.34 610.65,365.73 612.34,364.1 614.03,362.46 615.72,360.81 617.4,359.15 619.09,357.47 620.78,355.78 622.47,354.08 624.16,352.37 625.85,350.64 627.54,348.9 629.23,347.14 630.91,345.37 632.6,343.58 634.29,341.78 635.98,339.96 637.67,338.11 639.36,336.26 641.05,334.38 642.74,332.48 644.43,330.56 646.11,328.61 647.8,326.65 649.49,324.66 651.18,322.64 652.87,320.59 654.56,318.52 656.25,316.42 657.94,314.28 659.62,312.11 661.31,309.91 663,307.67 664.69,305.39 666.38,303.07 668.07,300.71 669.76,298.3 671.45,295.85 673.13,293.34 674.82,290.79 676.51,288.17 678.2,285.5" fill="none" stroke="#ff8000" stroke-width="1.2" stroke-dasharray="3 2.2"/>
<polyline points="408,503.1 409.69,502.74 411.38,502.38 413.07,501.99 414.75,501.6 416.44,501.19 418.13,500.77 419.82,500.34 421.51,499.89 423.2,499.43 424.89,498.96 426.58,498.48 428.26,497.98 429.95,497.47 431.64,496.95 433.33,496.41 435.02,495.86 436.71,495.3 438.4,494.73 440.09,494.14 441.77,493.54 443.46,492.93 445.15,492.3 446.84,491.67 448.53,491.02 450.22,490.35 451.91,489.68 453.6,488.99 455.29,488.28 456.97,487.57 458.66,486.84 460.35,486.1 462.04,485.35 463.73,484.58 465.42,483.81 467.11,483.01 468.8,482.21 470.48,481.39 472.17,480.56 473.86,479.72 475.55,478.87 477.24,478 478.93,477.12 480.62,476.23 482.31,475.32 483.99,474.41 485.68,473.48 487.37,472.53 489.06,471.58 490.75,470.61 492.44,469.63 494.13,468.64 495.81,467.64 497.5,466.62 499.19,465.59 500.88,464.55 502.57,463.5 504.26,462.43 505.95,461.35 507.64,460.26 509.33,459.16 511.01,458.05 512.7,456.92 514.39,455.79 516.08,454.64 517.77,453.48 519.46,452.31 521.15,451.13 522.84,449.93 524.52,448.73 526.21,447.51 527.9,446.29 529.59,445.05 531.28,443.8 532.97,442.54 534.66,441.28 536.35,440 538.03,438.71 539.72,437.41 541.41,436.1 543.1,434.79 544.79,433.46 546.48,432.12 548.17,430.78 549.86,429.42 551.54,428.06 553.23,426.69 554.92,425.31 556.61,423.92 558.3,422.53 559.99,421.13 561.68,419.72 563.37,418.3 565.05,416.87 566.74,415.44 568.43,414 570.12,412.56 571.81,411.11 573.5,409.65 575.19,408.19 576.88,406.72 578.56,405.24 580.25,403.76 581.94,402.28 583.63,400.79 585.32,399.29 587.01,397.79 588.7,396.28 590.38,394.77 592.07,393.25 593.76,391.73 595.45,390.2 597.14,388.67 598.83,387.13 600.52,385.59 602.21,384.03 603.89,382.48 605.58,380.91 607.27,379.34 608.96,377.76 610.65,376.18 612.34,374.58 614.03,372.98 615.72,371.36 617.4,369.74 619.09,368.1 620.78,366.45 622.47,364.79 624.16,363.11 625.85,361.42 627.54,359.7 629.23,357.97 630.91,356.22 632.6,354.44 634.29,352.64 635.98,350.81 637.67,348.95 639.36,347.06 641.05,345.14 642.74,343.17 644.43,341.17 646.11,339.12 647.8,337.03 649.49,334.88 651.18,332.68 652.87,330.42 654.56,328.09 656.25,325.7 657.94,323.23 659.62,320.68 661.31,318.05 663,315.33 664.69,312.5 666.38,309.58 668.07,306.54 669.76,303.38 671.45,300.09 673.13,296.67 674.82,293.11 676.51,289.39 678.2,285.5" fill="none" stroke="#0000ff" stroke-width="1.4" stroke-dasharray="1.3 4.9"/>
<polyline points="408,503.1 409.69,502.91 411.38,502.7 413.07,502.48 414.75,502.24 416.44,501.98 418.13,501.7 419.82,501.4 421.51,501.09 423.2,500.76 424.89,500.41 426.58,500.05 428.26,499.67 429.95,499.28 431.64,498.87 433.33,498.45 435.02,498.01 436.71,497.55 438.4,497.09 440.09,496.6 441.77,496.11 443.46,495.59 445.15,495.07 446.84,494.53 448.53,493.98 450.22,493.42 451.91,492.84 453.6,492.25 455.29,491.64 456.97,491.03 458.66,490.4 460.35,489.76 462.04,489.11 463.73,488.44 465.42,487.76 467.11,487.08 468.8,486.38 470.48,485.66 472.17,484.94 473.86,484.21 475.55,483.46 477.24,482.7 478.93,481.94 480.62,481.16 482.31,480.37 483.99,479.57 485.68,478.75 487.37,477.93 489.06,477.1 490.75,476.26 492.44,475.4 494.13,474.54 495.81,473.66 497.5,472.78 499.19,471.88 500.88,470.97 502.57,470.05 504.26,469.13 505.95,468.19 507.64,467.24 509.33,466.28 511.01,465.31 512.7,464.33 514.39,463.34 516.08,462.34 517.77,461.33 519.46,460.31 521.15,459.28 522.84,458.24 524.52,457.19 526.21,456.12 527.9,455.05 529.59,453.97 531.28,452.87 532.97,451.77 534.66,450.65 536.35,449.53 538.03,448.39 539.72,447.24 541.41,446.08 543.1,444.91 544.79,443.73 546.48,442.54 548.17,441.33 549.86,440.12 551.54,438.89 553.23,437.66 554.92,436.41 556.61,435.15 558.3,433.88 559.99,432.59 561.68,431.3 563.37,429.99 565.05,428.67 566.74,427.34 568.43,426 570.12,424.64 571.81,423.27 573.5,421.89 575.19,420.5 576.88,419.09 578.56,417.67 580.25,416.23 581.94,414.79 583.63,413.32 585.32,411.85 587.01,410.36 588.7,408.85 590.38,407.33 592.07,405.79 593.76,404.24 595.45,402.67 597.14,401.09 598.83,399.49 600.52,397.87 602.21,396.23 603.89,394.57 605.58,392.9 607.27,391.21 608.96,389.49 610.65,387.76 612.34,386 614.03,384.23 615.72,382.43 617.4,380.6 619.09,378.75 620.78,376.88 622.47,374.98 624.16,373.05 625.85,371.09 627.54,369.1 629.23,367.08 630.91,365.03 632.6,362.94 634.29,360.82 635.98,358.67 637.67,356.47 639.36,354.23 641.05,351.95 642.74,349.63 644.43,347.25 646.11,344.83 647.8,342.36 649.49,339.84 651.18,337.25 652.87,334.61 654.56,331.91 656.25,329.14 657.94,326.31 659.62,323.4 661.31,320.41 663,317.35 664.69,314.2 666.38,310.97 668.07,307.65 669.76,304.23 671.45,300.7 673.13,297.07 674.82,293.34 676.51,289.48 678.2,285.5" fill="none" stroke="#ff0000" stroke-width="1.5"/>
<polyline points="408,503.1 409.69,502.98 411.38,502.85 413.07,502.71 414.75,502.55 416.44,502.38 418.13,502.21 419.82,502.02 421.51,501.81 423.2,501.6 424.89,501.38 426.58,501.14 428.26,500.9 429.95,500.64 431.64,500.37 433.33,500.09 435.02,499.81 436.71,499.51 438.4,499.2 440.09,498.88 441.77,498.55 443.46,498.21 445.15,497.86 446.84,497.5 448.53,497.13 450.22,496.75 451.91,496.36 453.6,495.96 455.29,495.55 456.97,495.13 458.66,494.7 460.35,494.26 462.04,493.81 463.73,493.35 465.42,492.88 467.11,492.41 468.8,491.92 470.48,491.42 472.17,490.91 473.86,490.39 475.55,489.86 477.24,489.32 478.93,488.77 480.62,488.22 482.31,487.65 483.99,487.07 485.68,486.48 487.37,485.87 489.06,485.26 490.75,484.64 492.44,484.01 494.13,483.36 495.81,482.71 497.5,482.04 499.19,481.37 500.88,480.68 502.57,479.98 504.26,479.27 505.95,478.54 507.64,477.81 509.33,477.06 511.01,476.3 512.7,475.53 514.39,474.75 516.08,473.95 517.77,473.15 519.46,472.32 521.15,471.49 522.84,470.64 524.52,469.78 526.21,468.91 527.9,468.02 529.59,467.12 531.28,466.21 532.97,465.28 534.66,464.34 536.35,463.38 538.03,462.41 539.72,461.42 541.41,460.42 543.1,459.41 544.79,458.37 546.48,457.33 548.17,456.26 549.86,455.19 551.54,454.09 553.23,452.98 554.92,451.85 556.61,450.71 558.3,449.55 559.99,448.37 561.68,447.17 563.37,445.96 565.05,444.73 566.74,443.48 568.43,442.21 570.12,440.93 571.81,439.62 573.5,438.3 575.19,436.95 576.88,435.59 578.56,434.21 580.25,432.8 581.94,431.38 583.63,429.93 585.32,428.46 587.01,426.97 588.7,425.46 590.38,423.92 592.07,422.36 593.76,420.78 595.45,419.17 597.14,417.54 598.83,415.88 600.52,414.2 602.21,412.49 603.89,410.75 605.58,408.99 607.27,407.19 608.96,405.37 610.65,403.51 612.34,401.63 614.03,399.71 615.72,397.76 617.4,395.78 619.09,393.76 620.78,391.7 622.47,389.6 624.16,387.47 625.85,385.3 627.54,383.08 629.23,380.82 630.91,378.52 632.6,376.17 634.29,373.77 635.98,371.32 637.67,368.82 639.36,366.27 641.05,363.65 642.74,360.98 644.43,358.25 646.11,355.45 647.8,352.59 649.49,349.66 651.18,346.65 652.87,343.57 654.56,340.41 656.25,337.17 657.94,333.84 659.62,330.42 661.31,326.91 663,323.29 664.69,319.58 666.38,315.75 668.07,311.81 669.76,307.76 671.45,303.58 673.13,299.27 674.82,294.82 676.51,290.24 678.2,285.5" fill="none" stroke="#00ff00" stroke-width="1.3" stroke-dasharray="5 5"/>
<polyline points="408,503.1 409.69,502.87 411.38,502.64 413.07,502.4 414.75,502.17 416.44,501.93 418.13,501.69 419.82,501.45 421.51,501.2 423.2,500.95 424.89,500.7 426.58,500.44 428.26,500.18 429.95,499.92 431.64,499.65 433.33,499.38 435.02,499.1 436.71,498.81 438.4,498.53 440.09,498.23 441.77,497.93 443.46,497.62 445.15,497.31 446.84,496.99 448.53,496.67 450.22,496.33 451.91,495.99 453.6,495.64 455.29,495.29 456.97,494.92 458.66,494.55 460.35,494.17 462.04,493.78 463.73,493.38 465.42,492.98 467.11,492.56 468.8,492.13 470.48,491.69 472.17,491.25 473.86,490.79 475.55,490.32 477.24,489.84 478.93,489.35 480.62,488.85 482.31,488.34 483.99,487.81 485.68,487.28 487.37,486.73 489.06,486.17 490.75,485.59 492.44,485 494.13,484.41 495.81,483.79 497.5,483.17 499.19,482.53 500.88,481.87 502.57,481.21 504.26,480.52 505.95,479.83 507.64,479.12 509.33,478.39 511.01,477.65 512.7,476.9 514.39,476.13 516.08,475.34 517.77,474.54 519.46,473.73 521.15,472.9 522.84,472.05 524.52,471.19 526.21,470.31 527.9,469.42 529.59,468.51 531.28,467.58 532.97,466.64 534.66,465.68 536.35,464.7 538.03,463.71 539.72,462.71 541.41,461.68 543.1,460.64 544.79,459.58 546.48,458.51 548.17,457.42 549.86,456.32 551.54,455.19 553.23,454.05 554.92,452.9 556.61,451.73 558.3,450.54 559.99,449.33 561.68,448.11 563.37,446.88 565.05,445.62 566.74,444.35 568.43,443.06 570.12,441.76 571.81,440.44 573.5,439.11 575.19,437.75 576.88,436.38 578.56,435 580.25,433.6 581.94,432.18 583.63,430.74 585.32,429.29 587.01,427.82 588.7,426.33 590.38,424.82 592.07,423.3 593.76,421.76 595.45,420.2 597.14,418.62 598.83,417.02 600.52,415.41 602.21,413.77 603.89,412.11 605.58,410.43 607.27,408.72 608.96,407 610.65,405.25 612.34,403.47 614.03,401.67 615.72,399.84 617.4,397.98 619.09,396.09 620.78,394.17 622.47,392.21 624.16,390.22 625.85,388.19 627.54,386.13 629.23,384.02 630.91,381.86 632.6,379.66 634.29,377.41 635.98,375.11 637.67,372.75 639.36,370.33 641.05,367.84 642.74,365.29 644.43,362.67 646.11,359.97 647.8,357.19 649.49,354.32 651.18,351.36 652.87,348.3 654.56,345.14 656.25,341.87 657.94,338.48 659.62,334.97 661.31,331.32 663,327.53 664.69,323.6 666.38,319.5 668.07,315.24 669.76,310.79 671.45,306.16 673.13,301.33 674.82,296.28 676.51,291.01 678.2,285.5" fill="none" stroke="#000000" stroke-width="1.1" stroke-dasharray="1.2 0.8"/>
<rect x="408" y="285.5" width="270.2" height="217.6" fill="none" stroke="#000" stroke-width="1.2"/>
<text x="412.5" y="303.7" font-size="14.2">(e)</text>
<rect x="441.6" y="305.3" width="52.3" height="120.3" fill="#fff" stroke="#aaa" stroke-width="0.8"/>
<text x="466.6" y="319.6" font-size="12"><tspan font-style="italic">k</tspan>=</text>
<line x1="443" y1="332.2" x2="471.2" y2="332.2" stroke="#008000" stroke-width="1.3" stroke-dasharray="6 3 1.2 3"/>
<text x="474.1" y="336.8" font-size="12.2">10</text>
<line x1="443" y1="349.1" x2="471.2" y2="349.1" stroke="#ff8000" stroke-width="1.2" stroke-dasharray="3 2.2"/>
<text x="474.1" y="353.7" font-size="12.2">20</text>
<line x1="443" y1="366" x2="471.2" y2="366" stroke="#0000ff" stroke-width="1.4" stroke-dasharray="1.3 4.9"/>
<text x="474.1" y="370.6" font-size="12.2">50</text>
<line x1="443" y1="382.9" x2="471.2" y2="382.9" stroke="#ff0000" stroke-width="1.5"/>
<text x="474.1" y="387.5" font-size="12.2">100</text>
<line x1="443" y1="399.8" x2="471.2" y2="399.8" stroke="#00ff00" stroke-width="1.3" stroke-dasharray="5 5"/>
<text x="474.1" y="404.4" font-size="12.2">150</text>
<line x1="443" y1="416.7" x2="471.2" y2="416.7" stroke="#000000" stroke-width="1.1" stroke-dasharray="1.2 0.8"/>
<text x="474.1" y="421.3" font-size="12.2">200</text>
<text transform="translate(379.6,385.5) rotate(-90)" font-size="14.3" text-anchor="middle">Cumulative event number</text>
<text x="542.6" y="532.8" font-size="14.45" text-anchor="middle">% of sorted clusters</text>
</svg></body></html>
